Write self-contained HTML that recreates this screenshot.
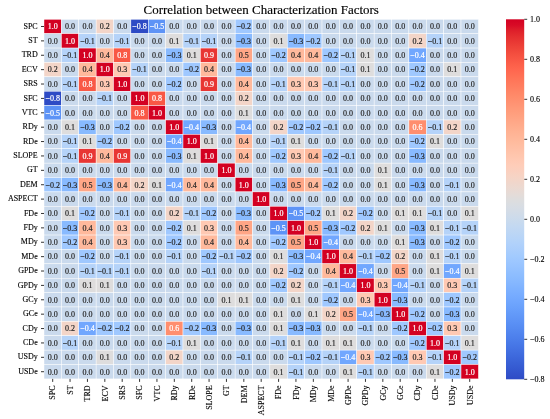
<!DOCTYPE html>
<html><head><meta charset="utf-8"><title>Correlation between Characterization Factors</title><style>html,body{margin:0;padding:0;background:#fff;}svg{display:block;}</style></head><body>
<svg width="550" height="419" viewBox="0 0 550 419">
<rect x="0" y="0" width="550" height="419" fill="#fff"/>
<g stroke="#fff" stroke-width="0.45"><rect x="44.00" y="19.30" width="17.38" height="14.38" fill="#d30122"/><rect x="61.38" y="19.30" width="17.38" height="14.38" fill="#cadaed"/><rect x="78.75" y="19.30" width="17.38" height="14.38" fill="#cadaed"/><rect x="96.13" y="19.30" width="17.38" height="14.38" fill="#f3d5c8"/><rect x="113.50" y="19.30" width="17.38" height="14.38" fill="#cadaed"/><rect x="130.88" y="19.30" width="17.38" height="14.38" fill="#2e4bc5"/><rect x="148.26" y="19.30" width="17.38" height="14.38" fill="#5d93f6"/><rect x="165.63" y="19.30" width="17.38" height="14.38" fill="#cadaed"/><rect x="183.01" y="19.30" width="17.38" height="14.38" fill="#cadaed"/><rect x="200.38" y="19.30" width="17.38" height="14.38" fill="#cadaed"/><rect x="217.76" y="19.30" width="17.38" height="14.38" fill="#cadaed"/><rect x="235.14" y="19.30" width="17.38" height="14.38" fill="#9fc8ff"/><rect x="252.51" y="19.30" width="17.38" height="14.38" fill="#cadaed"/><rect x="269.89" y="19.30" width="17.38" height="14.38" fill="#cadaed"/><rect x="287.26" y="19.30" width="17.38" height="14.38" fill="#cadaed"/><rect x="304.64" y="19.30" width="17.38" height="14.38" fill="#cadaed"/><rect x="322.02" y="19.30" width="17.38" height="14.38" fill="#cadaed"/><rect x="339.39" y="19.30" width="17.38" height="14.38" fill="#cadaed"/><rect x="356.77" y="19.30" width="17.38" height="14.38" fill="#cadaed"/><rect x="374.14" y="19.30" width="17.38" height="14.38" fill="#cadaed"/><rect x="391.52" y="19.30" width="17.38" height="14.38" fill="#cadaed"/><rect x="408.90" y="19.30" width="17.38" height="14.38" fill="#cadaed"/><rect x="426.27" y="19.30" width="17.38" height="14.38" fill="#cadaed"/><rect x="443.65" y="19.30" width="17.38" height="14.38" fill="#cadaed"/><rect x="461.02" y="19.30" width="17.38" height="14.38" fill="#cadaed"/><rect x="44.00" y="33.68" width="17.38" height="14.38" fill="#cadaed"/><rect x="61.38" y="33.68" width="17.38" height="14.38" fill="#d30122"/><rect x="78.75" y="33.68" width="17.38" height="14.38" fill="#b5d3f9"/><rect x="96.13" y="33.68" width="17.38" height="14.38" fill="#cadaed"/><rect x="113.50" y="33.68" width="17.38" height="14.38" fill="#b5d3f9"/><rect x="130.88" y="33.68" width="17.38" height="14.38" fill="#cadaed"/><rect x="148.26" y="33.68" width="17.38" height="14.38" fill="#cadaed"/><rect x="165.63" y="33.68" width="17.38" height="14.38" fill="#dedddd"/><rect x="183.01" y="33.68" width="17.38" height="14.38" fill="#b5d3f9"/><rect x="200.38" y="33.68" width="17.38" height="14.38" fill="#b5d3f9"/><rect x="217.76" y="33.68" width="17.38" height="14.38" fill="#cadaed"/><rect x="235.14" y="33.68" width="17.38" height="14.38" fill="#88baff"/><rect x="252.51" y="33.68" width="17.38" height="14.38" fill="#cadaed"/><rect x="269.89" y="33.68" width="17.38" height="14.38" fill="#dedddd"/><rect x="287.26" y="33.68" width="17.38" height="14.38" fill="#88baff"/><rect x="304.64" y="33.68" width="17.38" height="14.38" fill="#9fc8ff"/><rect x="322.02" y="33.68" width="17.38" height="14.38" fill="#cadaed"/><rect x="339.39" y="33.68" width="17.38" height="14.38" fill="#cadaed"/><rect x="356.77" y="33.68" width="17.38" height="14.38" fill="#cadaed"/><rect x="374.14" y="33.68" width="17.38" height="14.38" fill="#cadaed"/><rect x="391.52" y="33.68" width="17.38" height="14.38" fill="#cadaed"/><rect x="408.90" y="33.68" width="17.38" height="14.38" fill="#f3d5c8"/><rect x="426.27" y="33.68" width="17.38" height="14.38" fill="#b5d3f9"/><rect x="443.65" y="33.68" width="17.38" height="14.38" fill="#cadaed"/><rect x="461.02" y="33.68" width="17.38" height="14.38" fill="#cadaed"/><rect x="44.00" y="48.07" width="17.38" height="14.38" fill="#cadaed"/><rect x="61.38" y="48.07" width="17.38" height="14.38" fill="#b5d3f9"/><rect x="78.75" y="48.07" width="17.38" height="14.38" fill="#d30122"/><rect x="96.13" y="48.07" width="17.38" height="14.38" fill="#ffb99c"/><rect x="113.50" y="48.07" width="17.38" height="14.38" fill="#f95845"/><rect x="130.88" y="48.07" width="17.38" height="14.38" fill="#cadaed"/><rect x="148.26" y="48.07" width="17.38" height="14.38" fill="#cadaed"/><rect x="165.63" y="48.07" width="17.38" height="14.38" fill="#88baff"/><rect x="183.01" y="48.07" width="17.38" height="14.38" fill="#dedddd"/><rect x="200.38" y="48.07" width="17.38" height="14.38" fill="#e83533"/><rect x="217.76" y="48.07" width="17.38" height="14.38" fill="#cadaed"/><rect x="235.14" y="48.07" width="17.38" height="14.38" fill="#ffa686"/><rect x="252.51" y="48.07" width="17.38" height="14.38" fill="#cadaed"/><rect x="269.89" y="48.07" width="17.38" height="14.38" fill="#9fc8ff"/><rect x="287.26" y="48.07" width="17.38" height="14.38" fill="#ffb99c"/><rect x="304.64" y="48.07" width="17.38" height="14.38" fill="#ffb99c"/><rect x="322.02" y="48.07" width="17.38" height="14.38" fill="#9fc8ff"/><rect x="339.39" y="48.07" width="17.38" height="14.38" fill="#b5d3f9"/><rect x="356.77" y="48.07" width="17.38" height="14.38" fill="#dedddd"/><rect x="374.14" y="48.07" width="17.38" height="14.38" fill="#cadaed"/><rect x="391.52" y="48.07" width="17.38" height="14.38" fill="#cadaed"/><rect x="408.90" y="48.07" width="17.38" height="14.38" fill="#71a7fe"/><rect x="426.27" y="48.07" width="17.38" height="14.38" fill="#cadaed"/><rect x="443.65" y="48.07" width="17.38" height="14.38" fill="#cadaed"/><rect x="461.02" y="48.07" width="17.38" height="14.38" fill="#cadaed"/><rect x="44.00" y="62.45" width="17.38" height="14.38" fill="#f3d5c8"/><rect x="61.38" y="62.45" width="17.38" height="14.38" fill="#cadaed"/><rect x="78.75" y="62.45" width="17.38" height="14.38" fill="#ffb99c"/><rect x="96.13" y="62.45" width="17.38" height="14.38" fill="#d30122"/><rect x="113.50" y="62.45" width="17.38" height="14.38" fill="#ffc9b3"/><rect x="130.88" y="62.45" width="17.38" height="14.38" fill="#b5d3f9"/><rect x="148.26" y="62.45" width="17.38" height="14.38" fill="#cadaed"/><rect x="165.63" y="62.45" width="17.38" height="14.38" fill="#cadaed"/><rect x="183.01" y="62.45" width="17.38" height="14.38" fill="#9fc8ff"/><rect x="200.38" y="62.45" width="17.38" height="14.38" fill="#ffb99c"/><rect x="217.76" y="62.45" width="17.38" height="14.38" fill="#cadaed"/><rect x="235.14" y="62.45" width="17.38" height="14.38" fill="#88baff"/><rect x="252.51" y="62.45" width="17.38" height="14.38" fill="#cadaed"/><rect x="269.89" y="62.45" width="17.38" height="14.38" fill="#cadaed"/><rect x="287.26" y="62.45" width="17.38" height="14.38" fill="#cadaed"/><rect x="304.64" y="62.45" width="17.38" height="14.38" fill="#cadaed"/><rect x="322.02" y="62.45" width="17.38" height="14.38" fill="#cadaed"/><rect x="339.39" y="62.45" width="17.38" height="14.38" fill="#b5d3f9"/><rect x="356.77" y="62.45" width="17.38" height="14.38" fill="#dedddd"/><rect x="374.14" y="62.45" width="17.38" height="14.38" fill="#cadaed"/><rect x="391.52" y="62.45" width="17.38" height="14.38" fill="#cadaed"/><rect x="408.90" y="62.45" width="17.38" height="14.38" fill="#9fc8ff"/><rect x="426.27" y="62.45" width="17.38" height="14.38" fill="#cadaed"/><rect x="443.65" y="62.45" width="17.38" height="14.38" fill="#dedddd"/><rect x="461.02" y="62.45" width="17.38" height="14.38" fill="#cadaed"/><rect x="44.00" y="76.84" width="17.38" height="14.38" fill="#cadaed"/><rect x="61.38" y="76.84" width="17.38" height="14.38" fill="#b5d3f9"/><rect x="78.75" y="76.84" width="17.38" height="14.38" fill="#f95845"/><rect x="96.13" y="76.84" width="17.38" height="14.38" fill="#ffc9b3"/><rect x="113.50" y="76.84" width="17.38" height="14.38" fill="#d30122"/><rect x="130.88" y="76.84" width="17.38" height="14.38" fill="#cadaed"/><rect x="148.26" y="76.84" width="17.38" height="14.38" fill="#cadaed"/><rect x="165.63" y="76.84" width="17.38" height="14.38" fill="#9fc8ff"/><rect x="183.01" y="76.84" width="17.38" height="14.38" fill="#cadaed"/><rect x="200.38" y="76.84" width="17.38" height="14.38" fill="#e83533"/><rect x="217.76" y="76.84" width="17.38" height="14.38" fill="#cadaed"/><rect x="235.14" y="76.84" width="17.38" height="14.38" fill="#ffb99c"/><rect x="252.51" y="76.84" width="17.38" height="14.38" fill="#cadaed"/><rect x="269.89" y="76.84" width="17.38" height="14.38" fill="#b5d3f9"/><rect x="287.26" y="76.84" width="17.38" height="14.38" fill="#ffc9b3"/><rect x="304.64" y="76.84" width="17.38" height="14.38" fill="#ffc9b3"/><rect x="322.02" y="76.84" width="17.38" height="14.38" fill="#b5d3f9"/><rect x="339.39" y="76.84" width="17.38" height="14.38" fill="#b5d3f9"/><rect x="356.77" y="76.84" width="17.38" height="14.38" fill="#cadaed"/><rect x="374.14" y="76.84" width="17.38" height="14.38" fill="#cadaed"/><rect x="391.52" y="76.84" width="17.38" height="14.38" fill="#cadaed"/><rect x="408.90" y="76.84" width="17.38" height="14.38" fill="#9fc8ff"/><rect x="426.27" y="76.84" width="17.38" height="14.38" fill="#cadaed"/><rect x="443.65" y="76.84" width="17.38" height="14.38" fill="#cadaed"/><rect x="461.02" y="76.84" width="17.38" height="14.38" fill="#cadaed"/><rect x="44.00" y="91.22" width="17.38" height="14.38" fill="#2e4bc5"/><rect x="61.38" y="91.22" width="17.38" height="14.38" fill="#cadaed"/><rect x="78.75" y="91.22" width="17.38" height="14.38" fill="#cadaed"/><rect x="96.13" y="91.22" width="17.38" height="14.38" fill="#b5d3f9"/><rect x="113.50" y="91.22" width="17.38" height="14.38" fill="#cadaed"/><rect x="130.88" y="91.22" width="17.38" height="14.38" fill="#d30122"/><rect x="148.26" y="91.22" width="17.38" height="14.38" fill="#f95845"/><rect x="165.63" y="91.22" width="17.38" height="14.38" fill="#cadaed"/><rect x="183.01" y="91.22" width="17.38" height="14.38" fill="#cadaed"/><rect x="200.38" y="91.22" width="17.38" height="14.38" fill="#cadaed"/><rect x="217.76" y="91.22" width="17.38" height="14.38" fill="#cadaed"/><rect x="235.14" y="91.22" width="17.38" height="14.38" fill="#f3d5c8"/><rect x="252.51" y="91.22" width="17.38" height="14.38" fill="#cadaed"/><rect x="269.89" y="91.22" width="17.38" height="14.38" fill="#cadaed"/><rect x="287.26" y="91.22" width="17.38" height="14.38" fill="#cadaed"/><rect x="304.64" y="91.22" width="17.38" height="14.38" fill="#cadaed"/><rect x="322.02" y="91.22" width="17.38" height="14.38" fill="#cadaed"/><rect x="339.39" y="91.22" width="17.38" height="14.38" fill="#cadaed"/><rect x="356.77" y="91.22" width="17.38" height="14.38" fill="#cadaed"/><rect x="374.14" y="91.22" width="17.38" height="14.38" fill="#cadaed"/><rect x="391.52" y="91.22" width="17.38" height="14.38" fill="#cadaed"/><rect x="408.90" y="91.22" width="17.38" height="14.38" fill="#cadaed"/><rect x="426.27" y="91.22" width="17.38" height="14.38" fill="#cadaed"/><rect x="443.65" y="91.22" width="17.38" height="14.38" fill="#cadaed"/><rect x="461.02" y="91.22" width="17.38" height="14.38" fill="#cadaed"/><rect x="44.00" y="105.60" width="17.38" height="14.38" fill="#5d93f6"/><rect x="61.38" y="105.60" width="17.38" height="14.38" fill="#cadaed"/><rect x="78.75" y="105.60" width="17.38" height="14.38" fill="#cadaed"/><rect x="96.13" y="105.60" width="17.38" height="14.38" fill="#cadaed"/><rect x="113.50" y="105.60" width="17.38" height="14.38" fill="#cadaed"/><rect x="130.88" y="105.60" width="17.38" height="14.38" fill="#f95845"/><rect x="148.26" y="105.60" width="17.38" height="14.38" fill="#d30122"/><rect x="165.63" y="105.60" width="17.38" height="14.38" fill="#cadaed"/><rect x="183.01" y="105.60" width="17.38" height="14.38" fill="#cadaed"/><rect x="200.38" y="105.60" width="17.38" height="14.38" fill="#cadaed"/><rect x="217.76" y="105.60" width="17.38" height="14.38" fill="#cadaed"/><rect x="235.14" y="105.60" width="17.38" height="14.38" fill="#dedddd"/><rect x="252.51" y="105.60" width="17.38" height="14.38" fill="#cadaed"/><rect x="269.89" y="105.60" width="17.38" height="14.38" fill="#cadaed"/><rect x="287.26" y="105.60" width="17.38" height="14.38" fill="#cadaed"/><rect x="304.64" y="105.60" width="17.38" height="14.38" fill="#cadaed"/><rect x="322.02" y="105.60" width="17.38" height="14.38" fill="#cadaed"/><rect x="339.39" y="105.60" width="17.38" height="14.38" fill="#cadaed"/><rect x="356.77" y="105.60" width="17.38" height="14.38" fill="#cadaed"/><rect x="374.14" y="105.60" width="17.38" height="14.38" fill="#cadaed"/><rect x="391.52" y="105.60" width="17.38" height="14.38" fill="#cadaed"/><rect x="408.90" y="105.60" width="17.38" height="14.38" fill="#cadaed"/><rect x="426.27" y="105.60" width="17.38" height="14.38" fill="#cadaed"/><rect x="443.65" y="105.60" width="17.38" height="14.38" fill="#cadaed"/><rect x="461.02" y="105.60" width="17.38" height="14.38" fill="#cadaed"/><rect x="44.00" y="119.99" width="17.38" height="14.38" fill="#cadaed"/><rect x="61.38" y="119.99" width="17.38" height="14.38" fill="#dedddd"/><rect x="78.75" y="119.99" width="17.38" height="14.38" fill="#88baff"/><rect x="96.13" y="119.99" width="17.38" height="14.38" fill="#cadaed"/><rect x="113.50" y="119.99" width="17.38" height="14.38" fill="#9fc8ff"/><rect x="130.88" y="119.99" width="17.38" height="14.38" fill="#cadaed"/><rect x="148.26" y="119.99" width="17.38" height="14.38" fill="#cadaed"/><rect x="165.63" y="119.99" width="17.38" height="14.38" fill="#d30122"/><rect x="183.01" y="119.99" width="17.38" height="14.38" fill="#71a7fe"/><rect x="200.38" y="119.99" width="17.38" height="14.38" fill="#88baff"/><rect x="217.76" y="119.99" width="17.38" height="14.38" fill="#cadaed"/><rect x="235.14" y="119.99" width="17.38" height="14.38" fill="#71a7fe"/><rect x="252.51" y="119.99" width="17.38" height="14.38" fill="#cadaed"/><rect x="269.89" y="119.99" width="17.38" height="14.38" fill="#f3d5c8"/><rect x="287.26" y="119.99" width="17.38" height="14.38" fill="#9fc8ff"/><rect x="304.64" y="119.99" width="17.38" height="14.38" fill="#9fc8ff"/><rect x="322.02" y="119.99" width="17.38" height="14.38" fill="#b5d3f9"/><rect x="339.39" y="119.99" width="17.38" height="14.38" fill="#cadaed"/><rect x="356.77" y="119.99" width="17.38" height="14.38" fill="#cadaed"/><rect x="374.14" y="119.99" width="17.38" height="14.38" fill="#cadaed"/><rect x="391.52" y="119.99" width="17.38" height="14.38" fill="#cadaed"/><rect x="408.90" y="119.99" width="17.38" height="14.38" fill="#ff8e6e"/><rect x="426.27" y="119.99" width="17.38" height="14.38" fill="#b5d3f9"/><rect x="443.65" y="119.99" width="17.38" height="14.38" fill="#f3d5c8"/><rect x="461.02" y="119.99" width="17.38" height="14.38" fill="#cadaed"/><rect x="44.00" y="134.37" width="17.38" height="14.38" fill="#cadaed"/><rect x="61.38" y="134.37" width="17.38" height="14.38" fill="#b5d3f9"/><rect x="78.75" y="134.37" width="17.38" height="14.38" fill="#dedddd"/><rect x="96.13" y="134.37" width="17.38" height="14.38" fill="#9fc8ff"/><rect x="113.50" y="134.37" width="17.38" height="14.38" fill="#cadaed"/><rect x="130.88" y="134.37" width="17.38" height="14.38" fill="#cadaed"/><rect x="148.26" y="134.37" width="17.38" height="14.38" fill="#cadaed"/><rect x="165.63" y="134.37" width="17.38" height="14.38" fill="#71a7fe"/><rect x="183.01" y="134.37" width="17.38" height="14.38" fill="#d30122"/><rect x="200.38" y="134.37" width="17.38" height="14.38" fill="#dedddd"/><rect x="217.76" y="134.37" width="17.38" height="14.38" fill="#cadaed"/><rect x="235.14" y="134.37" width="17.38" height="14.38" fill="#ffb99c"/><rect x="252.51" y="134.37" width="17.38" height="14.38" fill="#cadaed"/><rect x="269.89" y="134.37" width="17.38" height="14.38" fill="#b5d3f9"/><rect x="287.26" y="134.37" width="17.38" height="14.38" fill="#dedddd"/><rect x="304.64" y="134.37" width="17.38" height="14.38" fill="#cadaed"/><rect x="322.02" y="134.37" width="17.38" height="14.38" fill="#cadaed"/><rect x="339.39" y="134.37" width="17.38" height="14.38" fill="#cadaed"/><rect x="356.77" y="134.37" width="17.38" height="14.38" fill="#cadaed"/><rect x="374.14" y="134.37" width="17.38" height="14.38" fill="#cadaed"/><rect x="391.52" y="134.37" width="17.38" height="14.38" fill="#cadaed"/><rect x="408.90" y="134.37" width="17.38" height="14.38" fill="#9fc8ff"/><rect x="426.27" y="134.37" width="17.38" height="14.38" fill="#dedddd"/><rect x="443.65" y="134.37" width="17.38" height="14.38" fill="#cadaed"/><rect x="461.02" y="134.37" width="17.38" height="14.38" fill="#cadaed"/><rect x="44.00" y="148.76" width="17.38" height="14.38" fill="#cadaed"/><rect x="61.38" y="148.76" width="17.38" height="14.38" fill="#b5d3f9"/><rect x="78.75" y="148.76" width="17.38" height="14.38" fill="#e83533"/><rect x="96.13" y="148.76" width="17.38" height="14.38" fill="#ffb99c"/><rect x="113.50" y="148.76" width="17.38" height="14.38" fill="#e83533"/><rect x="130.88" y="148.76" width="17.38" height="14.38" fill="#cadaed"/><rect x="148.26" y="148.76" width="17.38" height="14.38" fill="#cadaed"/><rect x="165.63" y="148.76" width="17.38" height="14.38" fill="#88baff"/><rect x="183.01" y="148.76" width="17.38" height="14.38" fill="#dedddd"/><rect x="200.38" y="148.76" width="17.38" height="14.38" fill="#d30122"/><rect x="217.76" y="148.76" width="17.38" height="14.38" fill="#cadaed"/><rect x="235.14" y="148.76" width="17.38" height="14.38" fill="#ffb99c"/><rect x="252.51" y="148.76" width="17.38" height="14.38" fill="#cadaed"/><rect x="269.89" y="148.76" width="17.38" height="14.38" fill="#9fc8ff"/><rect x="287.26" y="148.76" width="17.38" height="14.38" fill="#ffc9b3"/><rect x="304.64" y="148.76" width="17.38" height="14.38" fill="#ffb99c"/><rect x="322.02" y="148.76" width="17.38" height="14.38" fill="#9fc8ff"/><rect x="339.39" y="148.76" width="17.38" height="14.38" fill="#b5d3f9"/><rect x="356.77" y="148.76" width="17.38" height="14.38" fill="#cadaed"/><rect x="374.14" y="148.76" width="17.38" height="14.38" fill="#cadaed"/><rect x="391.52" y="148.76" width="17.38" height="14.38" fill="#cadaed"/><rect x="408.90" y="148.76" width="17.38" height="14.38" fill="#88baff"/><rect x="426.27" y="148.76" width="17.38" height="14.38" fill="#cadaed"/><rect x="443.65" y="148.76" width="17.38" height="14.38" fill="#cadaed"/><rect x="461.02" y="148.76" width="17.38" height="14.38" fill="#cadaed"/><rect x="44.00" y="163.14" width="17.38" height="14.38" fill="#cadaed"/><rect x="61.38" y="163.14" width="17.38" height="14.38" fill="#cadaed"/><rect x="78.75" y="163.14" width="17.38" height="14.38" fill="#cadaed"/><rect x="96.13" y="163.14" width="17.38" height="14.38" fill="#cadaed"/><rect x="113.50" y="163.14" width="17.38" height="14.38" fill="#cadaed"/><rect x="130.88" y="163.14" width="17.38" height="14.38" fill="#cadaed"/><rect x="148.26" y="163.14" width="17.38" height="14.38" fill="#cadaed"/><rect x="165.63" y="163.14" width="17.38" height="14.38" fill="#cadaed"/><rect x="183.01" y="163.14" width="17.38" height="14.38" fill="#cadaed"/><rect x="200.38" y="163.14" width="17.38" height="14.38" fill="#cadaed"/><rect x="217.76" y="163.14" width="17.38" height="14.38" fill="#d30122"/><rect x="235.14" y="163.14" width="17.38" height="14.38" fill="#cadaed"/><rect x="252.51" y="163.14" width="17.38" height="14.38" fill="#cadaed"/><rect x="269.89" y="163.14" width="17.38" height="14.38" fill="#cadaed"/><rect x="287.26" y="163.14" width="17.38" height="14.38" fill="#cadaed"/><rect x="304.64" y="163.14" width="17.38" height="14.38" fill="#cadaed"/><rect x="322.02" y="163.14" width="17.38" height="14.38" fill="#b5d3f9"/><rect x="339.39" y="163.14" width="17.38" height="14.38" fill="#cadaed"/><rect x="356.77" y="163.14" width="17.38" height="14.38" fill="#cadaed"/><rect x="374.14" y="163.14" width="17.38" height="14.38" fill="#dedddd"/><rect x="391.52" y="163.14" width="17.38" height="14.38" fill="#cadaed"/><rect x="408.90" y="163.14" width="17.38" height="14.38" fill="#cadaed"/><rect x="426.27" y="163.14" width="17.38" height="14.38" fill="#cadaed"/><rect x="443.65" y="163.14" width="17.38" height="14.38" fill="#cadaed"/><rect x="461.02" y="163.14" width="17.38" height="14.38" fill="#cadaed"/><rect x="44.00" y="177.52" width="17.38" height="14.38" fill="#9fc8ff"/><rect x="61.38" y="177.52" width="17.38" height="14.38" fill="#88baff"/><rect x="78.75" y="177.52" width="17.38" height="14.38" fill="#ffa686"/><rect x="96.13" y="177.52" width="17.38" height="14.38" fill="#88baff"/><rect x="113.50" y="177.52" width="17.38" height="14.38" fill="#ffb99c"/><rect x="130.88" y="177.52" width="17.38" height="14.38" fill="#f3d5c8"/><rect x="148.26" y="177.52" width="17.38" height="14.38" fill="#dedddd"/><rect x="165.63" y="177.52" width="17.38" height="14.38" fill="#71a7fe"/><rect x="183.01" y="177.52" width="17.38" height="14.38" fill="#ffb99c"/><rect x="200.38" y="177.52" width="17.38" height="14.38" fill="#ffb99c"/><rect x="217.76" y="177.52" width="17.38" height="14.38" fill="#cadaed"/><rect x="235.14" y="177.52" width="17.38" height="14.38" fill="#d30122"/><rect x="252.51" y="177.52" width="17.38" height="14.38" fill="#cadaed"/><rect x="269.89" y="177.52" width="17.38" height="14.38" fill="#88baff"/><rect x="287.26" y="177.52" width="17.38" height="14.38" fill="#ffa686"/><rect x="304.64" y="177.52" width="17.38" height="14.38" fill="#ffb99c"/><rect x="322.02" y="177.52" width="17.38" height="14.38" fill="#9fc8ff"/><rect x="339.39" y="177.52" width="17.38" height="14.38" fill="#cadaed"/><rect x="356.77" y="177.52" width="17.38" height="14.38" fill="#cadaed"/><rect x="374.14" y="177.52" width="17.38" height="14.38" fill="#dedddd"/><rect x="391.52" y="177.52" width="17.38" height="14.38" fill="#cadaed"/><rect x="408.90" y="177.52" width="17.38" height="14.38" fill="#88baff"/><rect x="426.27" y="177.52" width="17.38" height="14.38" fill="#cadaed"/><rect x="443.65" y="177.52" width="17.38" height="14.38" fill="#b5d3f9"/><rect x="461.02" y="177.52" width="17.38" height="14.38" fill="#cadaed"/><rect x="44.00" y="191.91" width="17.38" height="14.38" fill="#cadaed"/><rect x="61.38" y="191.91" width="17.38" height="14.38" fill="#cadaed"/><rect x="78.75" y="191.91" width="17.38" height="14.38" fill="#cadaed"/><rect x="96.13" y="191.91" width="17.38" height="14.38" fill="#cadaed"/><rect x="113.50" y="191.91" width="17.38" height="14.38" fill="#cadaed"/><rect x="130.88" y="191.91" width="17.38" height="14.38" fill="#cadaed"/><rect x="148.26" y="191.91" width="17.38" height="14.38" fill="#cadaed"/><rect x="165.63" y="191.91" width="17.38" height="14.38" fill="#cadaed"/><rect x="183.01" y="191.91" width="17.38" height="14.38" fill="#cadaed"/><rect x="200.38" y="191.91" width="17.38" height="14.38" fill="#cadaed"/><rect x="217.76" y="191.91" width="17.38" height="14.38" fill="#cadaed"/><rect x="235.14" y="191.91" width="17.38" height="14.38" fill="#cadaed"/><rect x="252.51" y="191.91" width="17.38" height="14.38" fill="#d30122"/><rect x="269.89" y="191.91" width="17.38" height="14.38" fill="#cadaed"/><rect x="287.26" y="191.91" width="17.38" height="14.38" fill="#cadaed"/><rect x="304.64" y="191.91" width="17.38" height="14.38" fill="#cadaed"/><rect x="322.02" y="191.91" width="17.38" height="14.38" fill="#cadaed"/><rect x="339.39" y="191.91" width="17.38" height="14.38" fill="#cadaed"/><rect x="356.77" y="191.91" width="17.38" height="14.38" fill="#cadaed"/><rect x="374.14" y="191.91" width="17.38" height="14.38" fill="#cadaed"/><rect x="391.52" y="191.91" width="17.38" height="14.38" fill="#cadaed"/><rect x="408.90" y="191.91" width="17.38" height="14.38" fill="#cadaed"/><rect x="426.27" y="191.91" width="17.38" height="14.38" fill="#cadaed"/><rect x="443.65" y="191.91" width="17.38" height="14.38" fill="#cadaed"/><rect x="461.02" y="191.91" width="17.38" height="14.38" fill="#cadaed"/><rect x="44.00" y="206.29" width="17.38" height="14.38" fill="#cadaed"/><rect x="61.38" y="206.29" width="17.38" height="14.38" fill="#dedddd"/><rect x="78.75" y="206.29" width="17.38" height="14.38" fill="#9fc8ff"/><rect x="96.13" y="206.29" width="17.38" height="14.38" fill="#cadaed"/><rect x="113.50" y="206.29" width="17.38" height="14.38" fill="#b5d3f9"/><rect x="130.88" y="206.29" width="17.38" height="14.38" fill="#cadaed"/><rect x="148.26" y="206.29" width="17.38" height="14.38" fill="#cadaed"/><rect x="165.63" y="206.29" width="17.38" height="14.38" fill="#f3d5c8"/><rect x="183.01" y="206.29" width="17.38" height="14.38" fill="#b5d3f9"/><rect x="200.38" y="206.29" width="17.38" height="14.38" fill="#9fc8ff"/><rect x="217.76" y="206.29" width="17.38" height="14.38" fill="#cadaed"/><rect x="235.14" y="206.29" width="17.38" height="14.38" fill="#88baff"/><rect x="252.51" y="206.29" width="17.38" height="14.38" fill="#cadaed"/><rect x="269.89" y="206.29" width="17.38" height="14.38" fill="#d30122"/><rect x="287.26" y="206.29" width="17.38" height="14.38" fill="#5d93f6"/><rect x="304.64" y="206.29" width="17.38" height="14.38" fill="#9fc8ff"/><rect x="322.02" y="206.29" width="17.38" height="14.38" fill="#dedddd"/><rect x="339.39" y="206.29" width="17.38" height="14.38" fill="#f3d5c8"/><rect x="356.77" y="206.29" width="17.38" height="14.38" fill="#9fc8ff"/><rect x="374.14" y="206.29" width="17.38" height="14.38" fill="#cadaed"/><rect x="391.52" y="206.29" width="17.38" height="14.38" fill="#dedddd"/><rect x="408.90" y="206.29" width="17.38" height="14.38" fill="#dedddd"/><rect x="426.27" y="206.29" width="17.38" height="14.38" fill="#b5d3f9"/><rect x="443.65" y="206.29" width="17.38" height="14.38" fill="#cadaed"/><rect x="461.02" y="206.29" width="17.38" height="14.38" fill="#dedddd"/><rect x="44.00" y="220.68" width="17.38" height="14.38" fill="#cadaed"/><rect x="61.38" y="220.68" width="17.38" height="14.38" fill="#88baff"/><rect x="78.75" y="220.68" width="17.38" height="14.38" fill="#ffb99c"/><rect x="96.13" y="220.68" width="17.38" height="14.38" fill="#cadaed"/><rect x="113.50" y="220.68" width="17.38" height="14.38" fill="#ffc9b3"/><rect x="130.88" y="220.68" width="17.38" height="14.38" fill="#cadaed"/><rect x="148.26" y="220.68" width="17.38" height="14.38" fill="#cadaed"/><rect x="165.63" y="220.68" width="17.38" height="14.38" fill="#9fc8ff"/><rect x="183.01" y="220.68" width="17.38" height="14.38" fill="#dedddd"/><rect x="200.38" y="220.68" width="17.38" height="14.38" fill="#ffc9b3"/><rect x="217.76" y="220.68" width="17.38" height="14.38" fill="#cadaed"/><rect x="235.14" y="220.68" width="17.38" height="14.38" fill="#ffa686"/><rect x="252.51" y="220.68" width="17.38" height="14.38" fill="#cadaed"/><rect x="269.89" y="220.68" width="17.38" height="14.38" fill="#5d93f6"/><rect x="287.26" y="220.68" width="17.38" height="14.38" fill="#d30122"/><rect x="304.64" y="220.68" width="17.38" height="14.38" fill="#ffa686"/><rect x="322.02" y="220.68" width="17.38" height="14.38" fill="#88baff"/><rect x="339.39" y="220.68" width="17.38" height="14.38" fill="#9fc8ff"/><rect x="356.77" y="220.68" width="17.38" height="14.38" fill="#f3d5c8"/><rect x="374.14" y="220.68" width="17.38" height="14.38" fill="#dedddd"/><rect x="391.52" y="220.68" width="17.38" height="14.38" fill="#cadaed"/><rect x="408.90" y="220.68" width="17.38" height="14.38" fill="#88baff"/><rect x="426.27" y="220.68" width="17.38" height="14.38" fill="#dedddd"/><rect x="443.65" y="220.68" width="17.38" height="14.38" fill="#b5d3f9"/><rect x="461.02" y="220.68" width="17.38" height="14.38" fill="#b5d3f9"/><rect x="44.00" y="235.06" width="17.38" height="14.38" fill="#cadaed"/><rect x="61.38" y="235.06" width="17.38" height="14.38" fill="#9fc8ff"/><rect x="78.75" y="235.06" width="17.38" height="14.38" fill="#ffb99c"/><rect x="96.13" y="235.06" width="17.38" height="14.38" fill="#cadaed"/><rect x="113.50" y="235.06" width="17.38" height="14.38" fill="#ffc9b3"/><rect x="130.88" y="235.06" width="17.38" height="14.38" fill="#cadaed"/><rect x="148.26" y="235.06" width="17.38" height="14.38" fill="#cadaed"/><rect x="165.63" y="235.06" width="17.38" height="14.38" fill="#9fc8ff"/><rect x="183.01" y="235.06" width="17.38" height="14.38" fill="#cadaed"/><rect x="200.38" y="235.06" width="17.38" height="14.38" fill="#ffb99c"/><rect x="217.76" y="235.06" width="17.38" height="14.38" fill="#cadaed"/><rect x="235.14" y="235.06" width="17.38" height="14.38" fill="#ffb99c"/><rect x="252.51" y="235.06" width="17.38" height="14.38" fill="#cadaed"/><rect x="269.89" y="235.06" width="17.38" height="14.38" fill="#9fc8ff"/><rect x="287.26" y="235.06" width="17.38" height="14.38" fill="#ffa686"/><rect x="304.64" y="235.06" width="17.38" height="14.38" fill="#d30122"/><rect x="322.02" y="235.06" width="17.38" height="14.38" fill="#71a7fe"/><rect x="339.39" y="235.06" width="17.38" height="14.38" fill="#cadaed"/><rect x="356.77" y="235.06" width="17.38" height="14.38" fill="#cadaed"/><rect x="374.14" y="235.06" width="17.38" height="14.38" fill="#cadaed"/><rect x="391.52" y="235.06" width="17.38" height="14.38" fill="#dedddd"/><rect x="408.90" y="235.06" width="17.38" height="14.38" fill="#88baff"/><rect x="426.27" y="235.06" width="17.38" height="14.38" fill="#cadaed"/><rect x="443.65" y="235.06" width="17.38" height="14.38" fill="#9fc8ff"/><rect x="461.02" y="235.06" width="17.38" height="14.38" fill="#cadaed"/><rect x="44.00" y="249.44" width="17.38" height="14.38" fill="#cadaed"/><rect x="61.38" y="249.44" width="17.38" height="14.38" fill="#cadaed"/><rect x="78.75" y="249.44" width="17.38" height="14.38" fill="#9fc8ff"/><rect x="96.13" y="249.44" width="17.38" height="14.38" fill="#cadaed"/><rect x="113.50" y="249.44" width="17.38" height="14.38" fill="#b5d3f9"/><rect x="130.88" y="249.44" width="17.38" height="14.38" fill="#cadaed"/><rect x="148.26" y="249.44" width="17.38" height="14.38" fill="#cadaed"/><rect x="165.63" y="249.44" width="17.38" height="14.38" fill="#b5d3f9"/><rect x="183.01" y="249.44" width="17.38" height="14.38" fill="#cadaed"/><rect x="200.38" y="249.44" width="17.38" height="14.38" fill="#9fc8ff"/><rect x="217.76" y="249.44" width="17.38" height="14.38" fill="#b5d3f9"/><rect x="235.14" y="249.44" width="17.38" height="14.38" fill="#9fc8ff"/><rect x="252.51" y="249.44" width="17.38" height="14.38" fill="#cadaed"/><rect x="269.89" y="249.44" width="17.38" height="14.38" fill="#dedddd"/><rect x="287.26" y="249.44" width="17.38" height="14.38" fill="#88baff"/><rect x="304.64" y="249.44" width="17.38" height="14.38" fill="#71a7fe"/><rect x="322.02" y="249.44" width="17.38" height="14.38" fill="#d30122"/><rect x="339.39" y="249.44" width="17.38" height="14.38" fill="#ffb99c"/><rect x="356.77" y="249.44" width="17.38" height="14.38" fill="#b5d3f9"/><rect x="374.14" y="249.44" width="17.38" height="14.38" fill="#9fc8ff"/><rect x="391.52" y="249.44" width="17.38" height="14.38" fill="#f3d5c8"/><rect x="408.90" y="249.44" width="17.38" height="14.38" fill="#cadaed"/><rect x="426.27" y="249.44" width="17.38" height="14.38" fill="#dedddd"/><rect x="443.65" y="249.44" width="17.38" height="14.38" fill="#b5d3f9"/><rect x="461.02" y="249.44" width="17.38" height="14.38" fill="#cadaed"/><rect x="44.00" y="263.83" width="17.38" height="14.38" fill="#cadaed"/><rect x="61.38" y="263.83" width="17.38" height="14.38" fill="#cadaed"/><rect x="78.75" y="263.83" width="17.38" height="14.38" fill="#b5d3f9"/><rect x="96.13" y="263.83" width="17.38" height="14.38" fill="#b5d3f9"/><rect x="113.50" y="263.83" width="17.38" height="14.38" fill="#b5d3f9"/><rect x="130.88" y="263.83" width="17.38" height="14.38" fill="#cadaed"/><rect x="148.26" y="263.83" width="17.38" height="14.38" fill="#cadaed"/><rect x="165.63" y="263.83" width="17.38" height="14.38" fill="#cadaed"/><rect x="183.01" y="263.83" width="17.38" height="14.38" fill="#cadaed"/><rect x="200.38" y="263.83" width="17.38" height="14.38" fill="#b5d3f9"/><rect x="217.76" y="263.83" width="17.38" height="14.38" fill="#cadaed"/><rect x="235.14" y="263.83" width="17.38" height="14.38" fill="#cadaed"/><rect x="252.51" y="263.83" width="17.38" height="14.38" fill="#cadaed"/><rect x="269.89" y="263.83" width="17.38" height="14.38" fill="#f3d5c8"/><rect x="287.26" y="263.83" width="17.38" height="14.38" fill="#9fc8ff"/><rect x="304.64" y="263.83" width="17.38" height="14.38" fill="#cadaed"/><rect x="322.02" y="263.83" width="17.38" height="14.38" fill="#ffb99c"/><rect x="339.39" y="263.83" width="17.38" height="14.38" fill="#d30122"/><rect x="356.77" y="263.83" width="17.38" height="14.38" fill="#71a7fe"/><rect x="374.14" y="263.83" width="17.38" height="14.38" fill="#cadaed"/><rect x="391.52" y="263.83" width="17.38" height="14.38" fill="#ffa686"/><rect x="408.90" y="263.83" width="17.38" height="14.38" fill="#cadaed"/><rect x="426.27" y="263.83" width="17.38" height="14.38" fill="#dedddd"/><rect x="443.65" y="263.83" width="17.38" height="14.38" fill="#71a7fe"/><rect x="461.02" y="263.83" width="17.38" height="14.38" fill="#dedddd"/><rect x="44.00" y="278.21" width="17.38" height="14.38" fill="#cadaed"/><rect x="61.38" y="278.21" width="17.38" height="14.38" fill="#cadaed"/><rect x="78.75" y="278.21" width="17.38" height="14.38" fill="#dedddd"/><rect x="96.13" y="278.21" width="17.38" height="14.38" fill="#dedddd"/><rect x="113.50" y="278.21" width="17.38" height="14.38" fill="#cadaed"/><rect x="130.88" y="278.21" width="17.38" height="14.38" fill="#cadaed"/><rect x="148.26" y="278.21" width="17.38" height="14.38" fill="#cadaed"/><rect x="165.63" y="278.21" width="17.38" height="14.38" fill="#cadaed"/><rect x="183.01" y="278.21" width="17.38" height="14.38" fill="#cadaed"/><rect x="200.38" y="278.21" width="17.38" height="14.38" fill="#cadaed"/><rect x="217.76" y="278.21" width="17.38" height="14.38" fill="#cadaed"/><rect x="235.14" y="278.21" width="17.38" height="14.38" fill="#cadaed"/><rect x="252.51" y="278.21" width="17.38" height="14.38" fill="#cadaed"/><rect x="269.89" y="278.21" width="17.38" height="14.38" fill="#9fc8ff"/><rect x="287.26" y="278.21" width="17.38" height="14.38" fill="#f3d5c8"/><rect x="304.64" y="278.21" width="17.38" height="14.38" fill="#cadaed"/><rect x="322.02" y="278.21" width="17.38" height="14.38" fill="#b5d3f9"/><rect x="339.39" y="278.21" width="17.38" height="14.38" fill="#71a7fe"/><rect x="356.77" y="278.21" width="17.38" height="14.38" fill="#d30122"/><rect x="374.14" y="278.21" width="17.38" height="14.38" fill="#ffc9b3"/><rect x="391.52" y="278.21" width="17.38" height="14.38" fill="#71a7fe"/><rect x="408.90" y="278.21" width="17.38" height="14.38" fill="#b5d3f9"/><rect x="426.27" y="278.21" width="17.38" height="14.38" fill="#cadaed"/><rect x="443.65" y="278.21" width="17.38" height="14.38" fill="#ffc9b3"/><rect x="461.02" y="278.21" width="17.38" height="14.38" fill="#b5d3f9"/><rect x="44.00" y="292.60" width="17.38" height="14.38" fill="#cadaed"/><rect x="61.38" y="292.60" width="17.38" height="14.38" fill="#cadaed"/><rect x="78.75" y="292.60" width="17.38" height="14.38" fill="#cadaed"/><rect x="96.13" y="292.60" width="17.38" height="14.38" fill="#cadaed"/><rect x="113.50" y="292.60" width="17.38" height="14.38" fill="#cadaed"/><rect x="130.88" y="292.60" width="17.38" height="14.38" fill="#cadaed"/><rect x="148.26" y="292.60" width="17.38" height="14.38" fill="#cadaed"/><rect x="165.63" y="292.60" width="17.38" height="14.38" fill="#cadaed"/><rect x="183.01" y="292.60" width="17.38" height="14.38" fill="#cadaed"/><rect x="200.38" y="292.60" width="17.38" height="14.38" fill="#cadaed"/><rect x="217.76" y="292.60" width="17.38" height="14.38" fill="#dedddd"/><rect x="235.14" y="292.60" width="17.38" height="14.38" fill="#dedddd"/><rect x="252.51" y="292.60" width="17.38" height="14.38" fill="#cadaed"/><rect x="269.89" y="292.60" width="17.38" height="14.38" fill="#cadaed"/><rect x="287.26" y="292.60" width="17.38" height="14.38" fill="#dedddd"/><rect x="304.64" y="292.60" width="17.38" height="14.38" fill="#cadaed"/><rect x="322.02" y="292.60" width="17.38" height="14.38" fill="#9fc8ff"/><rect x="339.39" y="292.60" width="17.38" height="14.38" fill="#cadaed"/><rect x="356.77" y="292.60" width="17.38" height="14.38" fill="#ffc9b3"/><rect x="374.14" y="292.60" width="17.38" height="14.38" fill="#d30122"/><rect x="391.52" y="292.60" width="17.38" height="14.38" fill="#88baff"/><rect x="408.90" y="292.60" width="17.38" height="14.38" fill="#cadaed"/><rect x="426.27" y="292.60" width="17.38" height="14.38" fill="#cadaed"/><rect x="443.65" y="292.60" width="17.38" height="14.38" fill="#9fc8ff"/><rect x="461.02" y="292.60" width="17.38" height="14.38" fill="#cadaed"/><rect x="44.00" y="306.98" width="17.38" height="14.38" fill="#cadaed"/><rect x="61.38" y="306.98" width="17.38" height="14.38" fill="#cadaed"/><rect x="78.75" y="306.98" width="17.38" height="14.38" fill="#cadaed"/><rect x="96.13" y="306.98" width="17.38" height="14.38" fill="#cadaed"/><rect x="113.50" y="306.98" width="17.38" height="14.38" fill="#cadaed"/><rect x="130.88" y="306.98" width="17.38" height="14.38" fill="#cadaed"/><rect x="148.26" y="306.98" width="17.38" height="14.38" fill="#cadaed"/><rect x="165.63" y="306.98" width="17.38" height="14.38" fill="#cadaed"/><rect x="183.01" y="306.98" width="17.38" height="14.38" fill="#cadaed"/><rect x="200.38" y="306.98" width="17.38" height="14.38" fill="#cadaed"/><rect x="217.76" y="306.98" width="17.38" height="14.38" fill="#cadaed"/><rect x="235.14" y="306.98" width="17.38" height="14.38" fill="#cadaed"/><rect x="252.51" y="306.98" width="17.38" height="14.38" fill="#cadaed"/><rect x="269.89" y="306.98" width="17.38" height="14.38" fill="#dedddd"/><rect x="287.26" y="306.98" width="17.38" height="14.38" fill="#cadaed"/><rect x="304.64" y="306.98" width="17.38" height="14.38" fill="#dedddd"/><rect x="322.02" y="306.98" width="17.38" height="14.38" fill="#f3d5c8"/><rect x="339.39" y="306.98" width="17.38" height="14.38" fill="#ffa686"/><rect x="356.77" y="306.98" width="17.38" height="14.38" fill="#71a7fe"/><rect x="374.14" y="306.98" width="17.38" height="14.38" fill="#88baff"/><rect x="391.52" y="306.98" width="17.38" height="14.38" fill="#d30122"/><rect x="408.90" y="306.98" width="17.38" height="14.38" fill="#9fc8ff"/><rect x="426.27" y="306.98" width="17.38" height="14.38" fill="#cadaed"/><rect x="443.65" y="306.98" width="17.38" height="14.38" fill="#88baff"/><rect x="461.02" y="306.98" width="17.38" height="14.38" fill="#cadaed"/><rect x="44.00" y="321.36" width="17.38" height="14.38" fill="#cadaed"/><rect x="61.38" y="321.36" width="17.38" height="14.38" fill="#f3d5c8"/><rect x="78.75" y="321.36" width="17.38" height="14.38" fill="#71a7fe"/><rect x="96.13" y="321.36" width="17.38" height="14.38" fill="#9fc8ff"/><rect x="113.50" y="321.36" width="17.38" height="14.38" fill="#9fc8ff"/><rect x="130.88" y="321.36" width="17.38" height="14.38" fill="#cadaed"/><rect x="148.26" y="321.36" width="17.38" height="14.38" fill="#cadaed"/><rect x="165.63" y="321.36" width="17.38" height="14.38" fill="#ff8e6e"/><rect x="183.01" y="321.36" width="17.38" height="14.38" fill="#9fc8ff"/><rect x="200.38" y="321.36" width="17.38" height="14.38" fill="#88baff"/><rect x="217.76" y="321.36" width="17.38" height="14.38" fill="#cadaed"/><rect x="235.14" y="321.36" width="17.38" height="14.38" fill="#88baff"/><rect x="252.51" y="321.36" width="17.38" height="14.38" fill="#cadaed"/><rect x="269.89" y="321.36" width="17.38" height="14.38" fill="#dedddd"/><rect x="287.26" y="321.36" width="17.38" height="14.38" fill="#88baff"/><rect x="304.64" y="321.36" width="17.38" height="14.38" fill="#88baff"/><rect x="322.02" y="321.36" width="17.38" height="14.38" fill="#cadaed"/><rect x="339.39" y="321.36" width="17.38" height="14.38" fill="#cadaed"/><rect x="356.77" y="321.36" width="17.38" height="14.38" fill="#b5d3f9"/><rect x="374.14" y="321.36" width="17.38" height="14.38" fill="#cadaed"/><rect x="391.52" y="321.36" width="17.38" height="14.38" fill="#9fc8ff"/><rect x="408.90" y="321.36" width="17.38" height="14.38" fill="#d30122"/><rect x="426.27" y="321.36" width="17.38" height="14.38" fill="#9fc8ff"/><rect x="443.65" y="321.36" width="17.38" height="14.38" fill="#ffc9b3"/><rect x="461.02" y="321.36" width="17.38" height="14.38" fill="#cadaed"/><rect x="44.00" y="335.75" width="17.38" height="14.38" fill="#cadaed"/><rect x="61.38" y="335.75" width="17.38" height="14.38" fill="#b5d3f9"/><rect x="78.75" y="335.75" width="17.38" height="14.38" fill="#cadaed"/><rect x="96.13" y="335.75" width="17.38" height="14.38" fill="#cadaed"/><rect x="113.50" y="335.75" width="17.38" height="14.38" fill="#cadaed"/><rect x="130.88" y="335.75" width="17.38" height="14.38" fill="#cadaed"/><rect x="148.26" y="335.75" width="17.38" height="14.38" fill="#cadaed"/><rect x="165.63" y="335.75" width="17.38" height="14.38" fill="#b5d3f9"/><rect x="183.01" y="335.75" width="17.38" height="14.38" fill="#dedddd"/><rect x="200.38" y="335.75" width="17.38" height="14.38" fill="#cadaed"/><rect x="217.76" y="335.75" width="17.38" height="14.38" fill="#cadaed"/><rect x="235.14" y="335.75" width="17.38" height="14.38" fill="#cadaed"/><rect x="252.51" y="335.75" width="17.38" height="14.38" fill="#cadaed"/><rect x="269.89" y="335.75" width="17.38" height="14.38" fill="#b5d3f9"/><rect x="287.26" y="335.75" width="17.38" height="14.38" fill="#dedddd"/><rect x="304.64" y="335.75" width="17.38" height="14.38" fill="#cadaed"/><rect x="322.02" y="335.75" width="17.38" height="14.38" fill="#dedddd"/><rect x="339.39" y="335.75" width="17.38" height="14.38" fill="#dedddd"/><rect x="356.77" y="335.75" width="17.38" height="14.38" fill="#cadaed"/><rect x="374.14" y="335.75" width="17.38" height="14.38" fill="#cadaed"/><rect x="391.52" y="335.75" width="17.38" height="14.38" fill="#cadaed"/><rect x="408.90" y="335.75" width="17.38" height="14.38" fill="#9fc8ff"/><rect x="426.27" y="335.75" width="17.38" height="14.38" fill="#d30122"/><rect x="443.65" y="335.75" width="17.38" height="14.38" fill="#b5d3f9"/><rect x="461.02" y="335.75" width="17.38" height="14.38" fill="#dedddd"/><rect x="44.00" y="350.13" width="17.38" height="14.38" fill="#cadaed"/><rect x="61.38" y="350.13" width="17.38" height="14.38" fill="#cadaed"/><rect x="78.75" y="350.13" width="17.38" height="14.38" fill="#cadaed"/><rect x="96.13" y="350.13" width="17.38" height="14.38" fill="#dedddd"/><rect x="113.50" y="350.13" width="17.38" height="14.38" fill="#cadaed"/><rect x="130.88" y="350.13" width="17.38" height="14.38" fill="#cadaed"/><rect x="148.26" y="350.13" width="17.38" height="14.38" fill="#cadaed"/><rect x="165.63" y="350.13" width="17.38" height="14.38" fill="#f3d5c8"/><rect x="183.01" y="350.13" width="17.38" height="14.38" fill="#cadaed"/><rect x="200.38" y="350.13" width="17.38" height="14.38" fill="#cadaed"/><rect x="217.76" y="350.13" width="17.38" height="14.38" fill="#cadaed"/><rect x="235.14" y="350.13" width="17.38" height="14.38" fill="#b5d3f9"/><rect x="252.51" y="350.13" width="17.38" height="14.38" fill="#cadaed"/><rect x="269.89" y="350.13" width="17.38" height="14.38" fill="#cadaed"/><rect x="287.26" y="350.13" width="17.38" height="14.38" fill="#b5d3f9"/><rect x="304.64" y="350.13" width="17.38" height="14.38" fill="#9fc8ff"/><rect x="322.02" y="350.13" width="17.38" height="14.38" fill="#b5d3f9"/><rect x="339.39" y="350.13" width="17.38" height="14.38" fill="#71a7fe"/><rect x="356.77" y="350.13" width="17.38" height="14.38" fill="#ffc9b3"/><rect x="374.14" y="350.13" width="17.38" height="14.38" fill="#9fc8ff"/><rect x="391.52" y="350.13" width="17.38" height="14.38" fill="#88baff"/><rect x="408.90" y="350.13" width="17.38" height="14.38" fill="#ffc9b3"/><rect x="426.27" y="350.13" width="17.38" height="14.38" fill="#b5d3f9"/><rect x="443.65" y="350.13" width="17.38" height="14.38" fill="#d30122"/><rect x="461.02" y="350.13" width="17.38" height="14.38" fill="#9fc8ff"/><rect x="44.00" y="364.52" width="17.38" height="14.38" fill="#cadaed"/><rect x="61.38" y="364.52" width="17.38" height="14.38" fill="#cadaed"/><rect x="78.75" y="364.52" width="17.38" height="14.38" fill="#cadaed"/><rect x="96.13" y="364.52" width="17.38" height="14.38" fill="#cadaed"/><rect x="113.50" y="364.52" width="17.38" height="14.38" fill="#cadaed"/><rect x="130.88" y="364.52" width="17.38" height="14.38" fill="#cadaed"/><rect x="148.26" y="364.52" width="17.38" height="14.38" fill="#cadaed"/><rect x="165.63" y="364.52" width="17.38" height="14.38" fill="#cadaed"/><rect x="183.01" y="364.52" width="17.38" height="14.38" fill="#cadaed"/><rect x="200.38" y="364.52" width="17.38" height="14.38" fill="#cadaed"/><rect x="217.76" y="364.52" width="17.38" height="14.38" fill="#cadaed"/><rect x="235.14" y="364.52" width="17.38" height="14.38" fill="#cadaed"/><rect x="252.51" y="364.52" width="17.38" height="14.38" fill="#cadaed"/><rect x="269.89" y="364.52" width="17.38" height="14.38" fill="#dedddd"/><rect x="287.26" y="364.52" width="17.38" height="14.38" fill="#b5d3f9"/><rect x="304.64" y="364.52" width="17.38" height="14.38" fill="#cadaed"/><rect x="322.02" y="364.52" width="17.38" height="14.38" fill="#cadaed"/><rect x="339.39" y="364.52" width="17.38" height="14.38" fill="#dedddd"/><rect x="356.77" y="364.52" width="17.38" height="14.38" fill="#b5d3f9"/><rect x="374.14" y="364.52" width="17.38" height="14.38" fill="#cadaed"/><rect x="391.52" y="364.52" width="17.38" height="14.38" fill="#cadaed"/><rect x="408.90" y="364.52" width="17.38" height="14.38" fill="#cadaed"/><rect x="426.27" y="364.52" width="17.38" height="14.38" fill="#dedddd"/><rect x="443.65" y="364.52" width="17.38" height="14.38" fill="#9fc8ff"/><rect x="461.02" y="364.52" width="17.38" height="14.38" fill="#d30122"/></g>
<g font-family="Liberation Serif, serif" font-size="8.0" stroke-width="0.18" text-anchor="middle" dominant-baseline="central"><text x="52.69" y="26.79" fill="#ffffff" stroke="#ffffff">1.0</text><text x="70.06" y="26.79" fill="#262626" stroke="#262626">0.0</text><text x="87.44" y="26.79" fill="#262626" stroke="#262626">0.0</text><text x="104.82" y="26.79" fill="#262626" stroke="#262626">0.2</text><text x="122.19" y="26.79" fill="#262626" stroke="#262626">0.0</text><text x="139.57" y="26.79" fill="#ffffff" stroke="#ffffff">−0.8</text><text x="156.94" y="26.79" fill="#ffffff" stroke="#ffffff">−0.5</text><text x="174.32" y="26.79" fill="#262626" stroke="#262626">0.0</text><text x="191.70" y="26.79" fill="#262626" stroke="#262626">0.0</text><text x="209.07" y="26.79" fill="#262626" stroke="#262626">0.0</text><text x="226.45" y="26.79" fill="#262626" stroke="#262626">0.0</text><text x="243.82" y="26.79" fill="#262626" stroke="#262626">−0.2</text><text x="261.20" y="26.79" fill="#262626" stroke="#262626">0.0</text><text x="278.58" y="26.79" fill="#262626" stroke="#262626">0.0</text><text x="295.95" y="26.79" fill="#262626" stroke="#262626">0.0</text><text x="313.33" y="26.79" fill="#262626" stroke="#262626">0.0</text><text x="330.70" y="26.79" fill="#262626" stroke="#262626">0.0</text><text x="348.08" y="26.79" fill="#262626" stroke="#262626">0.0</text><text x="365.46" y="26.79" fill="#262626" stroke="#262626">0.0</text><text x="382.83" y="26.79" fill="#262626" stroke="#262626">0.0</text><text x="400.21" y="26.79" fill="#262626" stroke="#262626">0.0</text><text x="417.58" y="26.79" fill="#262626" stroke="#262626">0.0</text><text x="434.96" y="26.79" fill="#262626" stroke="#262626">0.0</text><text x="452.34" y="26.79" fill="#262626" stroke="#262626">0.0</text><text x="469.71" y="26.79" fill="#262626" stroke="#262626">0.0</text><text x="52.69" y="41.18" fill="#262626" stroke="#262626">0.0</text><text x="70.06" y="41.18" fill="#ffffff" stroke="#ffffff">1.0</text><text x="87.44" y="41.18" fill="#262626" stroke="#262626">−0.1</text><text x="104.82" y="41.18" fill="#262626" stroke="#262626">0.0</text><text x="122.19" y="41.18" fill="#262626" stroke="#262626">−0.1</text><text x="139.57" y="41.18" fill="#262626" stroke="#262626">0.0</text><text x="156.94" y="41.18" fill="#262626" stroke="#262626">0.0</text><text x="174.32" y="41.18" fill="#262626" stroke="#262626">0.1</text><text x="191.70" y="41.18" fill="#262626" stroke="#262626">−0.1</text><text x="209.07" y="41.18" fill="#262626" stroke="#262626">−0.1</text><text x="226.45" y="41.18" fill="#262626" stroke="#262626">0.0</text><text x="243.82" y="41.18" fill="#262626" stroke="#262626">−0.3</text><text x="261.20" y="41.18" fill="#262626" stroke="#262626">0.0</text><text x="278.58" y="41.18" fill="#262626" stroke="#262626">0.1</text><text x="295.95" y="41.18" fill="#262626" stroke="#262626">−0.3</text><text x="313.33" y="41.18" fill="#262626" stroke="#262626">−0.2</text><text x="330.70" y="41.18" fill="#262626" stroke="#262626">0.0</text><text x="348.08" y="41.18" fill="#262626" stroke="#262626">0.0</text><text x="365.46" y="41.18" fill="#262626" stroke="#262626">0.0</text><text x="382.83" y="41.18" fill="#262626" stroke="#262626">0.0</text><text x="400.21" y="41.18" fill="#262626" stroke="#262626">0.0</text><text x="417.58" y="41.18" fill="#262626" stroke="#262626">0.2</text><text x="434.96" y="41.18" fill="#262626" stroke="#262626">−0.1</text><text x="452.34" y="41.18" fill="#262626" stroke="#262626">0.0</text><text x="469.71" y="41.18" fill="#262626" stroke="#262626">0.0</text><text x="52.69" y="55.56" fill="#262626" stroke="#262626">0.0</text><text x="70.06" y="55.56" fill="#262626" stroke="#262626">−0.1</text><text x="87.44" y="55.56" fill="#ffffff" stroke="#ffffff">1.0</text><text x="104.82" y="55.56" fill="#262626" stroke="#262626">0.4</text><text x="122.19" y="55.56" fill="#ffffff" stroke="#ffffff">0.8</text><text x="139.57" y="55.56" fill="#262626" stroke="#262626">0.0</text><text x="156.94" y="55.56" fill="#262626" stroke="#262626">0.0</text><text x="174.32" y="55.56" fill="#262626" stroke="#262626">−0.3</text><text x="191.70" y="55.56" fill="#262626" stroke="#262626">0.1</text><text x="209.07" y="55.56" fill="#ffffff" stroke="#ffffff">0.9</text><text x="226.45" y="55.56" fill="#262626" stroke="#262626">0.0</text><text x="243.82" y="55.56" fill="#262626" stroke="#262626">0.5</text><text x="261.20" y="55.56" fill="#262626" stroke="#262626">0.0</text><text x="278.58" y="55.56" fill="#262626" stroke="#262626">−0.2</text><text x="295.95" y="55.56" fill="#262626" stroke="#262626">0.4</text><text x="313.33" y="55.56" fill="#262626" stroke="#262626">0.4</text><text x="330.70" y="55.56" fill="#262626" stroke="#262626">−0.2</text><text x="348.08" y="55.56" fill="#262626" stroke="#262626">−0.1</text><text x="365.46" y="55.56" fill="#262626" stroke="#262626">0.1</text><text x="382.83" y="55.56" fill="#262626" stroke="#262626">0.0</text><text x="400.21" y="55.56" fill="#262626" stroke="#262626">0.0</text><text x="417.58" y="55.56" fill="#ffffff" stroke="#ffffff">−0.4</text><text x="434.96" y="55.56" fill="#262626" stroke="#262626">0.0</text><text x="452.34" y="55.56" fill="#262626" stroke="#262626">0.0</text><text x="469.71" y="55.56" fill="#262626" stroke="#262626">0.0</text><text x="52.69" y="69.94" fill="#262626" stroke="#262626">0.2</text><text x="70.06" y="69.94" fill="#262626" stroke="#262626">0.0</text><text x="87.44" y="69.94" fill="#262626" stroke="#262626">0.4</text><text x="104.82" y="69.94" fill="#ffffff" stroke="#ffffff">1.0</text><text x="122.19" y="69.94" fill="#262626" stroke="#262626">0.3</text><text x="139.57" y="69.94" fill="#262626" stroke="#262626">−0.1</text><text x="156.94" y="69.94" fill="#262626" stroke="#262626">0.0</text><text x="174.32" y="69.94" fill="#262626" stroke="#262626">0.0</text><text x="191.70" y="69.94" fill="#262626" stroke="#262626">−0.2</text><text x="209.07" y="69.94" fill="#262626" stroke="#262626">0.4</text><text x="226.45" y="69.94" fill="#262626" stroke="#262626">0.0</text><text x="243.82" y="69.94" fill="#262626" stroke="#262626">−0.3</text><text x="261.20" y="69.94" fill="#262626" stroke="#262626">0.0</text><text x="278.58" y="69.94" fill="#262626" stroke="#262626">0.0</text><text x="295.95" y="69.94" fill="#262626" stroke="#262626">0.0</text><text x="313.33" y="69.94" fill="#262626" stroke="#262626">0.0</text><text x="330.70" y="69.94" fill="#262626" stroke="#262626">0.0</text><text x="348.08" y="69.94" fill="#262626" stroke="#262626">−0.1</text><text x="365.46" y="69.94" fill="#262626" stroke="#262626">0.1</text><text x="382.83" y="69.94" fill="#262626" stroke="#262626">0.0</text><text x="400.21" y="69.94" fill="#262626" stroke="#262626">0.0</text><text x="417.58" y="69.94" fill="#262626" stroke="#262626">−0.2</text><text x="434.96" y="69.94" fill="#262626" stroke="#262626">0.0</text><text x="452.34" y="69.94" fill="#262626" stroke="#262626">0.1</text><text x="469.71" y="69.94" fill="#262626" stroke="#262626">0.0</text><text x="52.69" y="84.33" fill="#262626" stroke="#262626">0.0</text><text x="70.06" y="84.33" fill="#262626" stroke="#262626">−0.1</text><text x="87.44" y="84.33" fill="#ffffff" stroke="#ffffff">0.8</text><text x="104.82" y="84.33" fill="#262626" stroke="#262626">0.3</text><text x="122.19" y="84.33" fill="#ffffff" stroke="#ffffff">1.0</text><text x="139.57" y="84.33" fill="#262626" stroke="#262626">0.0</text><text x="156.94" y="84.33" fill="#262626" stroke="#262626">0.0</text><text x="174.32" y="84.33" fill="#262626" stroke="#262626">−0.2</text><text x="191.70" y="84.33" fill="#262626" stroke="#262626">0.0</text><text x="209.07" y="84.33" fill="#ffffff" stroke="#ffffff">0.9</text><text x="226.45" y="84.33" fill="#262626" stroke="#262626">0.0</text><text x="243.82" y="84.33" fill="#262626" stroke="#262626">0.4</text><text x="261.20" y="84.33" fill="#262626" stroke="#262626">0.0</text><text x="278.58" y="84.33" fill="#262626" stroke="#262626">−0.1</text><text x="295.95" y="84.33" fill="#262626" stroke="#262626">0.3</text><text x="313.33" y="84.33" fill="#262626" stroke="#262626">0.3</text><text x="330.70" y="84.33" fill="#262626" stroke="#262626">−0.1</text><text x="348.08" y="84.33" fill="#262626" stroke="#262626">−0.1</text><text x="365.46" y="84.33" fill="#262626" stroke="#262626">0.0</text><text x="382.83" y="84.33" fill="#262626" stroke="#262626">0.0</text><text x="400.21" y="84.33" fill="#262626" stroke="#262626">0.0</text><text x="417.58" y="84.33" fill="#262626" stroke="#262626">−0.2</text><text x="434.96" y="84.33" fill="#262626" stroke="#262626">0.0</text><text x="452.34" y="84.33" fill="#262626" stroke="#262626">0.0</text><text x="469.71" y="84.33" fill="#262626" stroke="#262626">0.0</text><text x="52.69" y="98.71" fill="#ffffff" stroke="#ffffff">−0.8</text><text x="70.06" y="98.71" fill="#262626" stroke="#262626">0.0</text><text x="87.44" y="98.71" fill="#262626" stroke="#262626">0.0</text><text x="104.82" y="98.71" fill="#262626" stroke="#262626">−0.1</text><text x="122.19" y="98.71" fill="#262626" stroke="#262626">0.0</text><text x="139.57" y="98.71" fill="#ffffff" stroke="#ffffff">1.0</text><text x="156.94" y="98.71" fill="#ffffff" stroke="#ffffff">0.8</text><text x="174.32" y="98.71" fill="#262626" stroke="#262626">0.0</text><text x="191.70" y="98.71" fill="#262626" stroke="#262626">0.0</text><text x="209.07" y="98.71" fill="#262626" stroke="#262626">0.0</text><text x="226.45" y="98.71" fill="#262626" stroke="#262626">0.0</text><text x="243.82" y="98.71" fill="#262626" stroke="#262626">0.2</text><text x="261.20" y="98.71" fill="#262626" stroke="#262626">0.0</text><text x="278.58" y="98.71" fill="#262626" stroke="#262626">0.0</text><text x="295.95" y="98.71" fill="#262626" stroke="#262626">0.0</text><text x="313.33" y="98.71" fill="#262626" stroke="#262626">0.0</text><text x="330.70" y="98.71" fill="#262626" stroke="#262626">0.0</text><text x="348.08" y="98.71" fill="#262626" stroke="#262626">0.0</text><text x="365.46" y="98.71" fill="#262626" stroke="#262626">0.0</text><text x="382.83" y="98.71" fill="#262626" stroke="#262626">0.0</text><text x="400.21" y="98.71" fill="#262626" stroke="#262626">0.0</text><text x="417.58" y="98.71" fill="#262626" stroke="#262626">0.0</text><text x="434.96" y="98.71" fill="#262626" stroke="#262626">0.0</text><text x="452.34" y="98.71" fill="#262626" stroke="#262626">0.0</text><text x="469.71" y="98.71" fill="#262626" stroke="#262626">0.0</text><text x="52.69" y="113.10" fill="#ffffff" stroke="#ffffff">−0.5</text><text x="70.06" y="113.10" fill="#262626" stroke="#262626">0.0</text><text x="87.44" y="113.10" fill="#262626" stroke="#262626">0.0</text><text x="104.82" y="113.10" fill="#262626" stroke="#262626">0.0</text><text x="122.19" y="113.10" fill="#262626" stroke="#262626">0.0</text><text x="139.57" y="113.10" fill="#ffffff" stroke="#ffffff">0.8</text><text x="156.94" y="113.10" fill="#ffffff" stroke="#ffffff">1.0</text><text x="174.32" y="113.10" fill="#262626" stroke="#262626">0.0</text><text x="191.70" y="113.10" fill="#262626" stroke="#262626">0.0</text><text x="209.07" y="113.10" fill="#262626" stroke="#262626">0.0</text><text x="226.45" y="113.10" fill="#262626" stroke="#262626">0.0</text><text x="243.82" y="113.10" fill="#262626" stroke="#262626">0.1</text><text x="261.20" y="113.10" fill="#262626" stroke="#262626">0.0</text><text x="278.58" y="113.10" fill="#262626" stroke="#262626">0.0</text><text x="295.95" y="113.10" fill="#262626" stroke="#262626">0.0</text><text x="313.33" y="113.10" fill="#262626" stroke="#262626">0.0</text><text x="330.70" y="113.10" fill="#262626" stroke="#262626">0.0</text><text x="348.08" y="113.10" fill="#262626" stroke="#262626">0.0</text><text x="365.46" y="113.10" fill="#262626" stroke="#262626">0.0</text><text x="382.83" y="113.10" fill="#262626" stroke="#262626">0.0</text><text x="400.21" y="113.10" fill="#262626" stroke="#262626">0.0</text><text x="417.58" y="113.10" fill="#262626" stroke="#262626">0.0</text><text x="434.96" y="113.10" fill="#262626" stroke="#262626">0.0</text><text x="452.34" y="113.10" fill="#262626" stroke="#262626">0.0</text><text x="469.71" y="113.10" fill="#262626" stroke="#262626">0.0</text><text x="52.69" y="127.48" fill="#262626" stroke="#262626">0.0</text><text x="70.06" y="127.48" fill="#262626" stroke="#262626">0.1</text><text x="87.44" y="127.48" fill="#262626" stroke="#262626">−0.3</text><text x="104.82" y="127.48" fill="#262626" stroke="#262626">0.0</text><text x="122.19" y="127.48" fill="#262626" stroke="#262626">−0.2</text><text x="139.57" y="127.48" fill="#262626" stroke="#262626">0.0</text><text x="156.94" y="127.48" fill="#262626" stroke="#262626">0.0</text><text x="174.32" y="127.48" fill="#ffffff" stroke="#ffffff">1.0</text><text x="191.70" y="127.48" fill="#ffffff" stroke="#ffffff">−0.4</text><text x="209.07" y="127.48" fill="#262626" stroke="#262626">−0.3</text><text x="226.45" y="127.48" fill="#262626" stroke="#262626">0.0</text><text x="243.82" y="127.48" fill="#ffffff" stroke="#ffffff">−0.4</text><text x="261.20" y="127.48" fill="#262626" stroke="#262626">0.0</text><text x="278.58" y="127.48" fill="#262626" stroke="#262626">0.2</text><text x="295.95" y="127.48" fill="#262626" stroke="#262626">−0.2</text><text x="313.33" y="127.48" fill="#262626" stroke="#262626">−0.2</text><text x="330.70" y="127.48" fill="#262626" stroke="#262626">−0.1</text><text x="348.08" y="127.48" fill="#262626" stroke="#262626">0.0</text><text x="365.46" y="127.48" fill="#262626" stroke="#262626">0.0</text><text x="382.83" y="127.48" fill="#262626" stroke="#262626">0.0</text><text x="400.21" y="127.48" fill="#262626" stroke="#262626">0.0</text><text x="417.58" y="127.48" fill="#ffffff" stroke="#ffffff">0.6</text><text x="434.96" y="127.48" fill="#262626" stroke="#262626">−0.1</text><text x="452.34" y="127.48" fill="#262626" stroke="#262626">0.2</text><text x="469.71" y="127.48" fill="#262626" stroke="#262626">0.0</text><text x="52.69" y="141.86" fill="#262626" stroke="#262626">0.0</text><text x="70.06" y="141.86" fill="#262626" stroke="#262626">−0.1</text><text x="87.44" y="141.86" fill="#262626" stroke="#262626">0.1</text><text x="104.82" y="141.86" fill="#262626" stroke="#262626">−0.2</text><text x="122.19" y="141.86" fill="#262626" stroke="#262626">0.0</text><text x="139.57" y="141.86" fill="#262626" stroke="#262626">0.0</text><text x="156.94" y="141.86" fill="#262626" stroke="#262626">0.0</text><text x="174.32" y="141.86" fill="#ffffff" stroke="#ffffff">−0.4</text><text x="191.70" y="141.86" fill="#ffffff" stroke="#ffffff">1.0</text><text x="209.07" y="141.86" fill="#262626" stroke="#262626">0.1</text><text x="226.45" y="141.86" fill="#262626" stroke="#262626">0.0</text><text x="243.82" y="141.86" fill="#262626" stroke="#262626">0.4</text><text x="261.20" y="141.86" fill="#262626" stroke="#262626">0.0</text><text x="278.58" y="141.86" fill="#262626" stroke="#262626">−0.1</text><text x="295.95" y="141.86" fill="#262626" stroke="#262626">0.1</text><text x="313.33" y="141.86" fill="#262626" stroke="#262626">0.0</text><text x="330.70" y="141.86" fill="#262626" stroke="#262626">0.0</text><text x="348.08" y="141.86" fill="#262626" stroke="#262626">0.0</text><text x="365.46" y="141.86" fill="#262626" stroke="#262626">0.0</text><text x="382.83" y="141.86" fill="#262626" stroke="#262626">0.0</text><text x="400.21" y="141.86" fill="#262626" stroke="#262626">0.0</text><text x="417.58" y="141.86" fill="#262626" stroke="#262626">−0.2</text><text x="434.96" y="141.86" fill="#262626" stroke="#262626">0.1</text><text x="452.34" y="141.86" fill="#262626" stroke="#262626">0.0</text><text x="469.71" y="141.86" fill="#262626" stroke="#262626">0.0</text><text x="52.69" y="156.25" fill="#262626" stroke="#262626">0.0</text><text x="70.06" y="156.25" fill="#262626" stroke="#262626">−0.1</text><text x="87.44" y="156.25" fill="#ffffff" stroke="#ffffff">0.9</text><text x="104.82" y="156.25" fill="#262626" stroke="#262626">0.4</text><text x="122.19" y="156.25" fill="#ffffff" stroke="#ffffff">0.9</text><text x="139.57" y="156.25" fill="#262626" stroke="#262626">0.0</text><text x="156.94" y="156.25" fill="#262626" stroke="#262626">0.0</text><text x="174.32" y="156.25" fill="#262626" stroke="#262626">−0.3</text><text x="191.70" y="156.25" fill="#262626" stroke="#262626">0.1</text><text x="209.07" y="156.25" fill="#ffffff" stroke="#ffffff">1.0</text><text x="226.45" y="156.25" fill="#262626" stroke="#262626">0.0</text><text x="243.82" y="156.25" fill="#262626" stroke="#262626">0.4</text><text x="261.20" y="156.25" fill="#262626" stroke="#262626">0.0</text><text x="278.58" y="156.25" fill="#262626" stroke="#262626">−0.2</text><text x="295.95" y="156.25" fill="#262626" stroke="#262626">0.3</text><text x="313.33" y="156.25" fill="#262626" stroke="#262626">0.4</text><text x="330.70" y="156.25" fill="#262626" stroke="#262626">−0.2</text><text x="348.08" y="156.25" fill="#262626" stroke="#262626">−0.1</text><text x="365.46" y="156.25" fill="#262626" stroke="#262626">0.0</text><text x="382.83" y="156.25" fill="#262626" stroke="#262626">0.0</text><text x="400.21" y="156.25" fill="#262626" stroke="#262626">0.0</text><text x="417.58" y="156.25" fill="#262626" stroke="#262626">−0.3</text><text x="434.96" y="156.25" fill="#262626" stroke="#262626">0.0</text><text x="452.34" y="156.25" fill="#262626" stroke="#262626">0.0</text><text x="469.71" y="156.25" fill="#262626" stroke="#262626">0.0</text><text x="52.69" y="170.63" fill="#262626" stroke="#262626">0.0</text><text x="70.06" y="170.63" fill="#262626" stroke="#262626">0.0</text><text x="87.44" y="170.63" fill="#262626" stroke="#262626">0.0</text><text x="104.82" y="170.63" fill="#262626" stroke="#262626">0.0</text><text x="122.19" y="170.63" fill="#262626" stroke="#262626">0.0</text><text x="139.57" y="170.63" fill="#262626" stroke="#262626">0.0</text><text x="156.94" y="170.63" fill="#262626" stroke="#262626">0.0</text><text x="174.32" y="170.63" fill="#262626" stroke="#262626">0.0</text><text x="191.70" y="170.63" fill="#262626" stroke="#262626">0.0</text><text x="209.07" y="170.63" fill="#262626" stroke="#262626">0.0</text><text x="226.45" y="170.63" fill="#ffffff" stroke="#ffffff">1.0</text><text x="243.82" y="170.63" fill="#262626" stroke="#262626">0.0</text><text x="261.20" y="170.63" fill="#262626" stroke="#262626">0.0</text><text x="278.58" y="170.63" fill="#262626" stroke="#262626">0.0</text><text x="295.95" y="170.63" fill="#262626" stroke="#262626">0.0</text><text x="313.33" y="170.63" fill="#262626" stroke="#262626">0.0</text><text x="330.70" y="170.63" fill="#262626" stroke="#262626">−0.1</text><text x="348.08" y="170.63" fill="#262626" stroke="#262626">0.0</text><text x="365.46" y="170.63" fill="#262626" stroke="#262626">0.0</text><text x="382.83" y="170.63" fill="#262626" stroke="#262626">0.1</text><text x="400.21" y="170.63" fill="#262626" stroke="#262626">0.0</text><text x="417.58" y="170.63" fill="#262626" stroke="#262626">0.0</text><text x="434.96" y="170.63" fill="#262626" stroke="#262626">0.0</text><text x="452.34" y="170.63" fill="#262626" stroke="#262626">0.0</text><text x="469.71" y="170.63" fill="#262626" stroke="#262626">0.0</text><text x="52.69" y="185.02" fill="#262626" stroke="#262626">−0.2</text><text x="70.06" y="185.02" fill="#262626" stroke="#262626">−0.3</text><text x="87.44" y="185.02" fill="#262626" stroke="#262626">0.5</text><text x="104.82" y="185.02" fill="#262626" stroke="#262626">−0.3</text><text x="122.19" y="185.02" fill="#262626" stroke="#262626">0.4</text><text x="139.57" y="185.02" fill="#262626" stroke="#262626">0.2</text><text x="156.94" y="185.02" fill="#262626" stroke="#262626">0.1</text><text x="174.32" y="185.02" fill="#ffffff" stroke="#ffffff">−0.4</text><text x="191.70" y="185.02" fill="#262626" stroke="#262626">0.4</text><text x="209.07" y="185.02" fill="#262626" stroke="#262626">0.4</text><text x="226.45" y="185.02" fill="#262626" stroke="#262626">0.0</text><text x="243.82" y="185.02" fill="#ffffff" stroke="#ffffff">1.0</text><text x="261.20" y="185.02" fill="#262626" stroke="#262626">0.0</text><text x="278.58" y="185.02" fill="#262626" stroke="#262626">−0.3</text><text x="295.95" y="185.02" fill="#262626" stroke="#262626">0.5</text><text x="313.33" y="185.02" fill="#262626" stroke="#262626">0.4</text><text x="330.70" y="185.02" fill="#262626" stroke="#262626">−0.2</text><text x="348.08" y="185.02" fill="#262626" stroke="#262626">0.0</text><text x="365.46" y="185.02" fill="#262626" stroke="#262626">0.0</text><text x="382.83" y="185.02" fill="#262626" stroke="#262626">0.1</text><text x="400.21" y="185.02" fill="#262626" stroke="#262626">0.0</text><text x="417.58" y="185.02" fill="#262626" stroke="#262626">−0.3</text><text x="434.96" y="185.02" fill="#262626" stroke="#262626">0.0</text><text x="452.34" y="185.02" fill="#262626" stroke="#262626">−0.1</text><text x="469.71" y="185.02" fill="#262626" stroke="#262626">0.0</text><text x="52.69" y="199.40" fill="#262626" stroke="#262626">0.0</text><text x="70.06" y="199.40" fill="#262626" stroke="#262626">0.0</text><text x="87.44" y="199.40" fill="#262626" stroke="#262626">0.0</text><text x="104.82" y="199.40" fill="#262626" stroke="#262626">0.0</text><text x="122.19" y="199.40" fill="#262626" stroke="#262626">0.0</text><text x="139.57" y="199.40" fill="#262626" stroke="#262626">0.0</text><text x="156.94" y="199.40" fill="#262626" stroke="#262626">0.0</text><text x="174.32" y="199.40" fill="#262626" stroke="#262626">0.0</text><text x="191.70" y="199.40" fill="#262626" stroke="#262626">0.0</text><text x="209.07" y="199.40" fill="#262626" stroke="#262626">0.0</text><text x="226.45" y="199.40" fill="#262626" stroke="#262626">0.0</text><text x="243.82" y="199.40" fill="#262626" stroke="#262626">0.0</text><text x="261.20" y="199.40" fill="#ffffff" stroke="#ffffff">1.0</text><text x="278.58" y="199.40" fill="#262626" stroke="#262626">0.0</text><text x="295.95" y="199.40" fill="#262626" stroke="#262626">0.0</text><text x="313.33" y="199.40" fill="#262626" stroke="#262626">0.0</text><text x="330.70" y="199.40" fill="#262626" stroke="#262626">0.0</text><text x="348.08" y="199.40" fill="#262626" stroke="#262626">0.0</text><text x="365.46" y="199.40" fill="#262626" stroke="#262626">0.0</text><text x="382.83" y="199.40" fill="#262626" stroke="#262626">0.0</text><text x="400.21" y="199.40" fill="#262626" stroke="#262626">0.0</text><text x="417.58" y="199.40" fill="#262626" stroke="#262626">0.0</text><text x="434.96" y="199.40" fill="#262626" stroke="#262626">0.0</text><text x="452.34" y="199.40" fill="#262626" stroke="#262626">0.0</text><text x="469.71" y="199.40" fill="#262626" stroke="#262626">0.0</text><text x="52.69" y="213.78" fill="#262626" stroke="#262626">0.0</text><text x="70.06" y="213.78" fill="#262626" stroke="#262626">0.1</text><text x="87.44" y="213.78" fill="#262626" stroke="#262626">−0.2</text><text x="104.82" y="213.78" fill="#262626" stroke="#262626">0.0</text><text x="122.19" y="213.78" fill="#262626" stroke="#262626">−0.1</text><text x="139.57" y="213.78" fill="#262626" stroke="#262626">0.0</text><text x="156.94" y="213.78" fill="#262626" stroke="#262626">0.0</text><text x="174.32" y="213.78" fill="#262626" stroke="#262626">0.2</text><text x="191.70" y="213.78" fill="#262626" stroke="#262626">−0.1</text><text x="209.07" y="213.78" fill="#262626" stroke="#262626">−0.2</text><text x="226.45" y="213.78" fill="#262626" stroke="#262626">0.0</text><text x="243.82" y="213.78" fill="#262626" stroke="#262626">−0.3</text><text x="261.20" y="213.78" fill="#262626" stroke="#262626">0.0</text><text x="278.58" y="213.78" fill="#ffffff" stroke="#ffffff">1.0</text><text x="295.95" y="213.78" fill="#ffffff" stroke="#ffffff">−0.5</text><text x="313.33" y="213.78" fill="#262626" stroke="#262626">−0.2</text><text x="330.70" y="213.78" fill="#262626" stroke="#262626">0.1</text><text x="348.08" y="213.78" fill="#262626" stroke="#262626">0.2</text><text x="365.46" y="213.78" fill="#262626" stroke="#262626">−0.2</text><text x="382.83" y="213.78" fill="#262626" stroke="#262626">0.0</text><text x="400.21" y="213.78" fill="#262626" stroke="#262626">0.1</text><text x="417.58" y="213.78" fill="#262626" stroke="#262626">0.1</text><text x="434.96" y="213.78" fill="#262626" stroke="#262626">−0.1</text><text x="452.34" y="213.78" fill="#262626" stroke="#262626">0.0</text><text x="469.71" y="213.78" fill="#262626" stroke="#262626">0.1</text><text x="52.69" y="228.17" fill="#262626" stroke="#262626">0.0</text><text x="70.06" y="228.17" fill="#262626" stroke="#262626">−0.3</text><text x="87.44" y="228.17" fill="#262626" stroke="#262626">0.4</text><text x="104.82" y="228.17" fill="#262626" stroke="#262626">0.0</text><text x="122.19" y="228.17" fill="#262626" stroke="#262626">0.3</text><text x="139.57" y="228.17" fill="#262626" stroke="#262626">0.0</text><text x="156.94" y="228.17" fill="#262626" stroke="#262626">0.0</text><text x="174.32" y="228.17" fill="#262626" stroke="#262626">−0.2</text><text x="191.70" y="228.17" fill="#262626" stroke="#262626">0.1</text><text x="209.07" y="228.17" fill="#262626" stroke="#262626">0.3</text><text x="226.45" y="228.17" fill="#262626" stroke="#262626">0.0</text><text x="243.82" y="228.17" fill="#262626" stroke="#262626">0.5</text><text x="261.20" y="228.17" fill="#262626" stroke="#262626">0.0</text><text x="278.58" y="228.17" fill="#ffffff" stroke="#ffffff">−0.5</text><text x="295.95" y="228.17" fill="#ffffff" stroke="#ffffff">1.0</text><text x="313.33" y="228.17" fill="#262626" stroke="#262626">0.5</text><text x="330.70" y="228.17" fill="#262626" stroke="#262626">−0.3</text><text x="348.08" y="228.17" fill="#262626" stroke="#262626">−0.2</text><text x="365.46" y="228.17" fill="#262626" stroke="#262626">0.2</text><text x="382.83" y="228.17" fill="#262626" stroke="#262626">0.1</text><text x="400.21" y="228.17" fill="#262626" stroke="#262626">0.0</text><text x="417.58" y="228.17" fill="#262626" stroke="#262626">−0.3</text><text x="434.96" y="228.17" fill="#262626" stroke="#262626">0.1</text><text x="452.34" y="228.17" fill="#262626" stroke="#262626">−0.1</text><text x="469.71" y="228.17" fill="#262626" stroke="#262626">−0.1</text><text x="52.69" y="242.55" fill="#262626" stroke="#262626">0.0</text><text x="70.06" y="242.55" fill="#262626" stroke="#262626">−0.2</text><text x="87.44" y="242.55" fill="#262626" stroke="#262626">0.4</text><text x="104.82" y="242.55" fill="#262626" stroke="#262626">0.0</text><text x="122.19" y="242.55" fill="#262626" stroke="#262626">0.3</text><text x="139.57" y="242.55" fill="#262626" stroke="#262626">0.0</text><text x="156.94" y="242.55" fill="#262626" stroke="#262626">0.0</text><text x="174.32" y="242.55" fill="#262626" stroke="#262626">−0.2</text><text x="191.70" y="242.55" fill="#262626" stroke="#262626">0.0</text><text x="209.07" y="242.55" fill="#262626" stroke="#262626">0.4</text><text x="226.45" y="242.55" fill="#262626" stroke="#262626">0.0</text><text x="243.82" y="242.55" fill="#262626" stroke="#262626">0.4</text><text x="261.20" y="242.55" fill="#262626" stroke="#262626">0.0</text><text x="278.58" y="242.55" fill="#262626" stroke="#262626">−0.2</text><text x="295.95" y="242.55" fill="#262626" stroke="#262626">0.5</text><text x="313.33" y="242.55" fill="#ffffff" stroke="#ffffff">1.0</text><text x="330.70" y="242.55" fill="#ffffff" stroke="#ffffff">−0.4</text><text x="348.08" y="242.55" fill="#262626" stroke="#262626">0.0</text><text x="365.46" y="242.55" fill="#262626" stroke="#262626">0.0</text><text x="382.83" y="242.55" fill="#262626" stroke="#262626">0.0</text><text x="400.21" y="242.55" fill="#262626" stroke="#262626">0.1</text><text x="417.58" y="242.55" fill="#262626" stroke="#262626">−0.3</text><text x="434.96" y="242.55" fill="#262626" stroke="#262626">0.0</text><text x="452.34" y="242.55" fill="#262626" stroke="#262626">−0.2</text><text x="469.71" y="242.55" fill="#262626" stroke="#262626">0.0</text><text x="52.69" y="256.94" fill="#262626" stroke="#262626">0.0</text><text x="70.06" y="256.94" fill="#262626" stroke="#262626">0.0</text><text x="87.44" y="256.94" fill="#262626" stroke="#262626">−0.2</text><text x="104.82" y="256.94" fill="#262626" stroke="#262626">0.0</text><text x="122.19" y="256.94" fill="#262626" stroke="#262626">−0.1</text><text x="139.57" y="256.94" fill="#262626" stroke="#262626">0.0</text><text x="156.94" y="256.94" fill="#262626" stroke="#262626">0.0</text><text x="174.32" y="256.94" fill="#262626" stroke="#262626">−0.1</text><text x="191.70" y="256.94" fill="#262626" stroke="#262626">0.0</text><text x="209.07" y="256.94" fill="#262626" stroke="#262626">−0.2</text><text x="226.45" y="256.94" fill="#262626" stroke="#262626">−0.1</text><text x="243.82" y="256.94" fill="#262626" stroke="#262626">−0.2</text><text x="261.20" y="256.94" fill="#262626" stroke="#262626">0.0</text><text x="278.58" y="256.94" fill="#262626" stroke="#262626">0.1</text><text x="295.95" y="256.94" fill="#262626" stroke="#262626">−0.3</text><text x="313.33" y="256.94" fill="#ffffff" stroke="#ffffff">−0.4</text><text x="330.70" y="256.94" fill="#ffffff" stroke="#ffffff">1.0</text><text x="348.08" y="256.94" fill="#262626" stroke="#262626">0.4</text><text x="365.46" y="256.94" fill="#262626" stroke="#262626">−0.1</text><text x="382.83" y="256.94" fill="#262626" stroke="#262626">−0.2</text><text x="400.21" y="256.94" fill="#262626" stroke="#262626">0.2</text><text x="417.58" y="256.94" fill="#262626" stroke="#262626">0.0</text><text x="434.96" y="256.94" fill="#262626" stroke="#262626">0.1</text><text x="452.34" y="256.94" fill="#262626" stroke="#262626">−0.1</text><text x="469.71" y="256.94" fill="#262626" stroke="#262626">0.0</text><text x="52.69" y="271.32" fill="#262626" stroke="#262626">0.0</text><text x="70.06" y="271.32" fill="#262626" stroke="#262626">0.0</text><text x="87.44" y="271.32" fill="#262626" stroke="#262626">−0.1</text><text x="104.82" y="271.32" fill="#262626" stroke="#262626">−0.1</text><text x="122.19" y="271.32" fill="#262626" stroke="#262626">−0.1</text><text x="139.57" y="271.32" fill="#262626" stroke="#262626">0.0</text><text x="156.94" y="271.32" fill="#262626" stroke="#262626">0.0</text><text x="174.32" y="271.32" fill="#262626" stroke="#262626">0.0</text><text x="191.70" y="271.32" fill="#262626" stroke="#262626">0.0</text><text x="209.07" y="271.32" fill="#262626" stroke="#262626">−0.1</text><text x="226.45" y="271.32" fill="#262626" stroke="#262626">0.0</text><text x="243.82" y="271.32" fill="#262626" stroke="#262626">0.0</text><text x="261.20" y="271.32" fill="#262626" stroke="#262626">0.0</text><text x="278.58" y="271.32" fill="#262626" stroke="#262626">0.2</text><text x="295.95" y="271.32" fill="#262626" stroke="#262626">−0.2</text><text x="313.33" y="271.32" fill="#262626" stroke="#262626">0.0</text><text x="330.70" y="271.32" fill="#262626" stroke="#262626">0.4</text><text x="348.08" y="271.32" fill="#ffffff" stroke="#ffffff">1.0</text><text x="365.46" y="271.32" fill="#ffffff" stroke="#ffffff">−0.4</text><text x="382.83" y="271.32" fill="#262626" stroke="#262626">0.0</text><text x="400.21" y="271.32" fill="#262626" stroke="#262626">0.5</text><text x="417.58" y="271.32" fill="#262626" stroke="#262626">0.0</text><text x="434.96" y="271.32" fill="#262626" stroke="#262626">0.1</text><text x="452.34" y="271.32" fill="#ffffff" stroke="#ffffff">−0.4</text><text x="469.71" y="271.32" fill="#262626" stroke="#262626">0.1</text><text x="52.69" y="285.70" fill="#262626" stroke="#262626">0.0</text><text x="70.06" y="285.70" fill="#262626" stroke="#262626">0.0</text><text x="87.44" y="285.70" fill="#262626" stroke="#262626">0.1</text><text x="104.82" y="285.70" fill="#262626" stroke="#262626">0.1</text><text x="122.19" y="285.70" fill="#262626" stroke="#262626">0.0</text><text x="139.57" y="285.70" fill="#262626" stroke="#262626">0.0</text><text x="156.94" y="285.70" fill="#262626" stroke="#262626">0.0</text><text x="174.32" y="285.70" fill="#262626" stroke="#262626">0.0</text><text x="191.70" y="285.70" fill="#262626" stroke="#262626">0.0</text><text x="209.07" y="285.70" fill="#262626" stroke="#262626">0.0</text><text x="226.45" y="285.70" fill="#262626" stroke="#262626">0.0</text><text x="243.82" y="285.70" fill="#262626" stroke="#262626">0.0</text><text x="261.20" y="285.70" fill="#262626" stroke="#262626">0.0</text><text x="278.58" y="285.70" fill="#262626" stroke="#262626">−0.2</text><text x="295.95" y="285.70" fill="#262626" stroke="#262626">0.2</text><text x="313.33" y="285.70" fill="#262626" stroke="#262626">0.0</text><text x="330.70" y="285.70" fill="#262626" stroke="#262626">−0.1</text><text x="348.08" y="285.70" fill="#ffffff" stroke="#ffffff">−0.4</text><text x="365.46" y="285.70" fill="#ffffff" stroke="#ffffff">1.0</text><text x="382.83" y="285.70" fill="#262626" stroke="#262626">0.3</text><text x="400.21" y="285.70" fill="#ffffff" stroke="#ffffff">−0.4</text><text x="417.58" y="285.70" fill="#262626" stroke="#262626">−0.1</text><text x="434.96" y="285.70" fill="#262626" stroke="#262626">0.0</text><text x="452.34" y="285.70" fill="#262626" stroke="#262626">0.3</text><text x="469.71" y="285.70" fill="#262626" stroke="#262626">−0.1</text><text x="52.69" y="300.09" fill="#262626" stroke="#262626">0.0</text><text x="70.06" y="300.09" fill="#262626" stroke="#262626">0.0</text><text x="87.44" y="300.09" fill="#262626" stroke="#262626">0.0</text><text x="104.82" y="300.09" fill="#262626" stroke="#262626">0.0</text><text x="122.19" y="300.09" fill="#262626" stroke="#262626">0.0</text><text x="139.57" y="300.09" fill="#262626" stroke="#262626">0.0</text><text x="156.94" y="300.09" fill="#262626" stroke="#262626">0.0</text><text x="174.32" y="300.09" fill="#262626" stroke="#262626">0.0</text><text x="191.70" y="300.09" fill="#262626" stroke="#262626">0.0</text><text x="209.07" y="300.09" fill="#262626" stroke="#262626">0.0</text><text x="226.45" y="300.09" fill="#262626" stroke="#262626">0.1</text><text x="243.82" y="300.09" fill="#262626" stroke="#262626">0.1</text><text x="261.20" y="300.09" fill="#262626" stroke="#262626">0.0</text><text x="278.58" y="300.09" fill="#262626" stroke="#262626">0.0</text><text x="295.95" y="300.09" fill="#262626" stroke="#262626">0.1</text><text x="313.33" y="300.09" fill="#262626" stroke="#262626">0.0</text><text x="330.70" y="300.09" fill="#262626" stroke="#262626">−0.2</text><text x="348.08" y="300.09" fill="#262626" stroke="#262626">0.0</text><text x="365.46" y="300.09" fill="#262626" stroke="#262626">0.3</text><text x="382.83" y="300.09" fill="#ffffff" stroke="#ffffff">1.0</text><text x="400.21" y="300.09" fill="#262626" stroke="#262626">−0.3</text><text x="417.58" y="300.09" fill="#262626" stroke="#262626">0.0</text><text x="434.96" y="300.09" fill="#262626" stroke="#262626">0.0</text><text x="452.34" y="300.09" fill="#262626" stroke="#262626">−0.2</text><text x="469.71" y="300.09" fill="#262626" stroke="#262626">0.0</text><text x="52.69" y="314.47" fill="#262626" stroke="#262626">0.0</text><text x="70.06" y="314.47" fill="#262626" stroke="#262626">0.0</text><text x="87.44" y="314.47" fill="#262626" stroke="#262626">0.0</text><text x="104.82" y="314.47" fill="#262626" stroke="#262626">0.0</text><text x="122.19" y="314.47" fill="#262626" stroke="#262626">0.0</text><text x="139.57" y="314.47" fill="#262626" stroke="#262626">0.0</text><text x="156.94" y="314.47" fill="#262626" stroke="#262626">0.0</text><text x="174.32" y="314.47" fill="#262626" stroke="#262626">0.0</text><text x="191.70" y="314.47" fill="#262626" stroke="#262626">0.0</text><text x="209.07" y="314.47" fill="#262626" stroke="#262626">0.0</text><text x="226.45" y="314.47" fill="#262626" stroke="#262626">0.0</text><text x="243.82" y="314.47" fill="#262626" stroke="#262626">0.0</text><text x="261.20" y="314.47" fill="#262626" stroke="#262626">0.0</text><text x="278.58" y="314.47" fill="#262626" stroke="#262626">0.1</text><text x="295.95" y="314.47" fill="#262626" stroke="#262626">0.0</text><text x="313.33" y="314.47" fill="#262626" stroke="#262626">0.1</text><text x="330.70" y="314.47" fill="#262626" stroke="#262626">0.2</text><text x="348.08" y="314.47" fill="#262626" stroke="#262626">0.5</text><text x="365.46" y="314.47" fill="#ffffff" stroke="#ffffff">−0.4</text><text x="382.83" y="314.47" fill="#262626" stroke="#262626">−0.3</text><text x="400.21" y="314.47" fill="#ffffff" stroke="#ffffff">1.0</text><text x="417.58" y="314.47" fill="#262626" stroke="#262626">−0.2</text><text x="434.96" y="314.47" fill="#262626" stroke="#262626">0.0</text><text x="452.34" y="314.47" fill="#262626" stroke="#262626">−0.3</text><text x="469.71" y="314.47" fill="#262626" stroke="#262626">0.0</text><text x="52.69" y="328.86" fill="#262626" stroke="#262626">0.0</text><text x="70.06" y="328.86" fill="#262626" stroke="#262626">0.2</text><text x="87.44" y="328.86" fill="#ffffff" stroke="#ffffff">−0.4</text><text x="104.82" y="328.86" fill="#262626" stroke="#262626">−0.2</text><text x="122.19" y="328.86" fill="#262626" stroke="#262626">−0.2</text><text x="139.57" y="328.86" fill="#262626" stroke="#262626">0.0</text><text x="156.94" y="328.86" fill="#262626" stroke="#262626">0.0</text><text x="174.32" y="328.86" fill="#ffffff" stroke="#ffffff">0.6</text><text x="191.70" y="328.86" fill="#262626" stroke="#262626">−0.2</text><text x="209.07" y="328.86" fill="#262626" stroke="#262626">−0.3</text><text x="226.45" y="328.86" fill="#262626" stroke="#262626">0.0</text><text x="243.82" y="328.86" fill="#262626" stroke="#262626">−0.3</text><text x="261.20" y="328.86" fill="#262626" stroke="#262626">0.0</text><text x="278.58" y="328.86" fill="#262626" stroke="#262626">0.1</text><text x="295.95" y="328.86" fill="#262626" stroke="#262626">−0.3</text><text x="313.33" y="328.86" fill="#262626" stroke="#262626">−0.3</text><text x="330.70" y="328.86" fill="#262626" stroke="#262626">0.0</text><text x="348.08" y="328.86" fill="#262626" stroke="#262626">0.0</text><text x="365.46" y="328.86" fill="#262626" stroke="#262626">−0.1</text><text x="382.83" y="328.86" fill="#262626" stroke="#262626">0.0</text><text x="400.21" y="328.86" fill="#262626" stroke="#262626">−0.2</text><text x="417.58" y="328.86" fill="#ffffff" stroke="#ffffff">1.0</text><text x="434.96" y="328.86" fill="#262626" stroke="#262626">−0.2</text><text x="452.34" y="328.86" fill="#262626" stroke="#262626">0.3</text><text x="469.71" y="328.86" fill="#262626" stroke="#262626">0.0</text><text x="52.69" y="343.24" fill="#262626" stroke="#262626">0.0</text><text x="70.06" y="343.24" fill="#262626" stroke="#262626">−0.1</text><text x="87.44" y="343.24" fill="#262626" stroke="#262626">0.0</text><text x="104.82" y="343.24" fill="#262626" stroke="#262626">0.0</text><text x="122.19" y="343.24" fill="#262626" stroke="#262626">0.0</text><text x="139.57" y="343.24" fill="#262626" stroke="#262626">0.0</text><text x="156.94" y="343.24" fill="#262626" stroke="#262626">0.0</text><text x="174.32" y="343.24" fill="#262626" stroke="#262626">−0.1</text><text x="191.70" y="343.24" fill="#262626" stroke="#262626">0.1</text><text x="209.07" y="343.24" fill="#262626" stroke="#262626">0.0</text><text x="226.45" y="343.24" fill="#262626" stroke="#262626">0.0</text><text x="243.82" y="343.24" fill="#262626" stroke="#262626">0.0</text><text x="261.20" y="343.24" fill="#262626" stroke="#262626">0.0</text><text x="278.58" y="343.24" fill="#262626" stroke="#262626">−0.1</text><text x="295.95" y="343.24" fill="#262626" stroke="#262626">0.1</text><text x="313.33" y="343.24" fill="#262626" stroke="#262626">0.0</text><text x="330.70" y="343.24" fill="#262626" stroke="#262626">0.1</text><text x="348.08" y="343.24" fill="#262626" stroke="#262626">0.1</text><text x="365.46" y="343.24" fill="#262626" stroke="#262626">0.0</text><text x="382.83" y="343.24" fill="#262626" stroke="#262626">0.0</text><text x="400.21" y="343.24" fill="#262626" stroke="#262626">0.0</text><text x="417.58" y="343.24" fill="#262626" stroke="#262626">−0.2</text><text x="434.96" y="343.24" fill="#ffffff" stroke="#ffffff">1.0</text><text x="452.34" y="343.24" fill="#262626" stroke="#262626">−0.1</text><text x="469.71" y="343.24" fill="#262626" stroke="#262626">0.1</text><text x="52.69" y="357.62" fill="#262626" stroke="#262626">0.0</text><text x="70.06" y="357.62" fill="#262626" stroke="#262626">0.0</text><text x="87.44" y="357.62" fill="#262626" stroke="#262626">0.0</text><text x="104.82" y="357.62" fill="#262626" stroke="#262626">0.1</text><text x="122.19" y="357.62" fill="#262626" stroke="#262626">0.0</text><text x="139.57" y="357.62" fill="#262626" stroke="#262626">0.0</text><text x="156.94" y="357.62" fill="#262626" stroke="#262626">0.0</text><text x="174.32" y="357.62" fill="#262626" stroke="#262626">0.2</text><text x="191.70" y="357.62" fill="#262626" stroke="#262626">0.0</text><text x="209.07" y="357.62" fill="#262626" stroke="#262626">0.0</text><text x="226.45" y="357.62" fill="#262626" stroke="#262626">0.0</text><text x="243.82" y="357.62" fill="#262626" stroke="#262626">−0.1</text><text x="261.20" y="357.62" fill="#262626" stroke="#262626">0.0</text><text x="278.58" y="357.62" fill="#262626" stroke="#262626">0.0</text><text x="295.95" y="357.62" fill="#262626" stroke="#262626">−0.1</text><text x="313.33" y="357.62" fill="#262626" stroke="#262626">−0.2</text><text x="330.70" y="357.62" fill="#262626" stroke="#262626">−0.1</text><text x="348.08" y="357.62" fill="#ffffff" stroke="#ffffff">−0.4</text><text x="365.46" y="357.62" fill="#262626" stroke="#262626">0.3</text><text x="382.83" y="357.62" fill="#262626" stroke="#262626">−0.2</text><text x="400.21" y="357.62" fill="#262626" stroke="#262626">−0.3</text><text x="417.58" y="357.62" fill="#262626" stroke="#262626">0.3</text><text x="434.96" y="357.62" fill="#262626" stroke="#262626">−0.1</text><text x="452.34" y="357.62" fill="#ffffff" stroke="#ffffff">1.0</text><text x="469.71" y="357.62" fill="#262626" stroke="#262626">−0.2</text><text x="52.69" y="372.01" fill="#262626" stroke="#262626">0.0</text><text x="70.06" y="372.01" fill="#262626" stroke="#262626">0.0</text><text x="87.44" y="372.01" fill="#262626" stroke="#262626">0.0</text><text x="104.82" y="372.01" fill="#262626" stroke="#262626">0.0</text><text x="122.19" y="372.01" fill="#262626" stroke="#262626">0.0</text><text x="139.57" y="372.01" fill="#262626" stroke="#262626">0.0</text><text x="156.94" y="372.01" fill="#262626" stroke="#262626">0.0</text><text x="174.32" y="372.01" fill="#262626" stroke="#262626">0.0</text><text x="191.70" y="372.01" fill="#262626" stroke="#262626">0.0</text><text x="209.07" y="372.01" fill="#262626" stroke="#262626">0.0</text><text x="226.45" y="372.01" fill="#262626" stroke="#262626">0.0</text><text x="243.82" y="372.01" fill="#262626" stroke="#262626">0.0</text><text x="261.20" y="372.01" fill="#262626" stroke="#262626">0.0</text><text x="278.58" y="372.01" fill="#262626" stroke="#262626">0.1</text><text x="295.95" y="372.01" fill="#262626" stroke="#262626">−0.1</text><text x="313.33" y="372.01" fill="#262626" stroke="#262626">0.0</text><text x="330.70" y="372.01" fill="#262626" stroke="#262626">0.0</text><text x="348.08" y="372.01" fill="#262626" stroke="#262626">0.1</text><text x="365.46" y="372.01" fill="#262626" stroke="#262626">−0.1</text><text x="382.83" y="372.01" fill="#262626" stroke="#262626">0.0</text><text x="400.21" y="372.01" fill="#262626" stroke="#262626">0.0</text><text x="417.58" y="372.01" fill="#262626" stroke="#262626">0.0</text><text x="434.96" y="372.01" fill="#262626" stroke="#262626">0.1</text><text x="452.34" y="372.01" fill="#262626" stroke="#262626">−0.2</text><text x="469.71" y="372.01" fill="#ffffff" stroke="#ffffff">1.0</text></g>
<g stroke="#000" stroke-width="0.8"><line x1="41.00" y1="26.49" x2="44.00" y2="26.49"/><line x1="41.00" y1="40.88" x2="44.00" y2="40.88"/><line x1="41.00" y1="55.26" x2="44.00" y2="55.26"/><line x1="41.00" y1="69.64" x2="44.00" y2="69.64"/><line x1="41.00" y1="84.03" x2="44.00" y2="84.03"/><line x1="41.00" y1="98.41" x2="44.00" y2="98.41"/><line x1="41.00" y1="112.80" x2="44.00" y2="112.80"/><line x1="41.00" y1="127.18" x2="44.00" y2="127.18"/><line x1="41.00" y1="141.56" x2="44.00" y2="141.56"/><line x1="41.00" y1="155.95" x2="44.00" y2="155.95"/><line x1="41.00" y1="170.33" x2="44.00" y2="170.33"/><line x1="41.00" y1="184.72" x2="44.00" y2="184.72"/><line x1="41.00" y1="199.10" x2="44.00" y2="199.10"/><line x1="41.00" y1="213.48" x2="44.00" y2="213.48"/><line x1="41.00" y1="227.87" x2="44.00" y2="227.87"/><line x1="41.00" y1="242.25" x2="44.00" y2="242.25"/><line x1="41.00" y1="256.64" x2="44.00" y2="256.64"/><line x1="41.00" y1="271.02" x2="44.00" y2="271.02"/><line x1="41.00" y1="285.40" x2="44.00" y2="285.40"/><line x1="41.00" y1="299.79" x2="44.00" y2="299.79"/><line x1="41.00" y1="314.17" x2="44.00" y2="314.17"/><line x1="41.00" y1="328.56" x2="44.00" y2="328.56"/><line x1="41.00" y1="342.94" x2="44.00" y2="342.94"/><line x1="41.00" y1="357.32" x2="44.00" y2="357.32"/><line x1="41.00" y1="371.71" x2="44.00" y2="371.71"/><line x1="52.69" y1="378.90" x2="52.69" y2="381.90"/><line x1="70.06" y1="378.90" x2="70.06" y2="381.90"/><line x1="87.44" y1="378.90" x2="87.44" y2="381.90"/><line x1="104.82" y1="378.90" x2="104.82" y2="381.90"/><line x1="122.19" y1="378.90" x2="122.19" y2="381.90"/><line x1="139.57" y1="378.90" x2="139.57" y2="381.90"/><line x1="156.94" y1="378.90" x2="156.94" y2="381.90"/><line x1="174.32" y1="378.90" x2="174.32" y2="381.90"/><line x1="191.70" y1="378.90" x2="191.70" y2="381.90"/><line x1="209.07" y1="378.90" x2="209.07" y2="381.90"/><line x1="226.45" y1="378.90" x2="226.45" y2="381.90"/><line x1="243.82" y1="378.90" x2="243.82" y2="381.90"/><line x1="261.20" y1="378.90" x2="261.20" y2="381.90"/><line x1="278.58" y1="378.90" x2="278.58" y2="381.90"/><line x1="295.95" y1="378.90" x2="295.95" y2="381.90"/><line x1="313.33" y1="378.90" x2="313.33" y2="381.90"/><line x1="330.70" y1="378.90" x2="330.70" y2="381.90"/><line x1="348.08" y1="378.90" x2="348.08" y2="381.90"/><line x1="365.46" y1="378.90" x2="365.46" y2="381.90"/><line x1="382.83" y1="378.90" x2="382.83" y2="381.90"/><line x1="400.21" y1="378.90" x2="400.21" y2="381.90"/><line x1="417.58" y1="378.90" x2="417.58" y2="381.90"/><line x1="434.96" y1="378.90" x2="434.96" y2="381.90"/><line x1="452.34" y1="378.90" x2="452.34" y2="381.90"/><line x1="469.71" y1="378.90" x2="469.71" y2="381.90"/><line x1="524.20" y1="379.30" x2="527.20" y2="379.30"/><line x1="524.20" y1="339.30" x2="527.20" y2="339.30"/><line x1="524.20" y1="299.30" x2="527.20" y2="299.30"/><line x1="524.20" y1="259.30" x2="527.20" y2="259.30"/><line x1="524.20" y1="219.30" x2="527.20" y2="219.30"/><line x1="524.20" y1="179.30" x2="527.20" y2="179.30"/><line x1="524.20" y1="139.30" x2="527.20" y2="139.30"/><line x1="524.20" y1="99.30" x2="527.20" y2="99.30"/><line x1="524.20" y1="59.30" x2="527.20" y2="59.30"/><line x1="524.20" y1="19.30" x2="527.20" y2="19.30"/></g>
<g font-family="Liberation Serif, serif" font-size="8.0" fill="#000" stroke="#000" stroke-width="0.12" text-anchor="end" dominant-baseline="central"><text x="37.70" y="26.09">SPC</text><text x="37.70" y="40.48">ST</text><text x="37.70" y="54.86">TRD</text><text x="37.70" y="69.24">ECV</text><text x="37.70" y="83.63">SRS</text><text x="37.70" y="98.01">SFC</text><text x="37.70" y="112.40">VTC</text><text x="37.70" y="126.78">RDy</text><text x="37.70" y="141.16">RDe</text><text x="37.70" y="155.55">SLOPE</text><text x="37.70" y="169.93">GT</text><text x="37.70" y="184.32">DEM</text><text x="37.70" y="198.70">ASPECT</text><text x="37.70" y="213.08">FDe</text><text x="37.70" y="227.47">FDy</text><text x="37.70" y="241.85">MDy</text><text x="37.70" y="256.24">MDe</text><text x="37.70" y="270.62">GPDe</text><text x="37.70" y="285.00">GPDy</text><text x="37.70" y="299.39">GCy</text><text x="37.70" y="313.77">GCe</text><text x="37.70" y="328.16">CDy</text><text x="37.70" y="342.54">CDe</text><text x="37.70" y="356.92">USDy</text><text x="37.70" y="371.31">USDe</text></g>
<g font-family="Liberation Serif, serif" font-size="8.0" fill="#000" stroke="#000" stroke-width="0.12" text-anchor="end" dominant-baseline="central"><text transform="translate(52.99,385.40) rotate(-90)">SPC</text><text transform="translate(70.36,385.40) rotate(-90)">ST</text><text transform="translate(87.74,385.40) rotate(-90)">TRD</text><text transform="translate(105.12,385.40) rotate(-90)">ECV</text><text transform="translate(122.49,385.40) rotate(-90)">SRS</text><text transform="translate(139.87,385.40) rotate(-90)">SFC</text><text transform="translate(157.24,385.40) rotate(-90)">VTC</text><text transform="translate(174.62,385.40) rotate(-90)">RDy</text><text transform="translate(192.00,385.40) rotate(-90)">RDe</text><text transform="translate(209.37,385.40) rotate(-90)">SLOPE</text><text transform="translate(226.75,385.40) rotate(-90)">GT</text><text transform="translate(244.12,385.40) rotate(-90)">DEM</text><text transform="translate(261.50,385.40) rotate(-90)">ASPECT</text><text transform="translate(278.88,385.40) rotate(-90)">FDe</text><text transform="translate(296.25,385.40) rotate(-90)">FDy</text><text transform="translate(313.63,385.40) rotate(-90)">MDy</text><text transform="translate(331.00,385.40) rotate(-90)">MDe</text><text transform="translate(348.38,385.40) rotate(-90)">GPDe</text><text transform="translate(365.76,385.40) rotate(-90)">GPDy</text><text transform="translate(383.13,385.40) rotate(-90)">GCy</text><text transform="translate(400.51,385.40) rotate(-90)">GCe</text><text transform="translate(417.88,385.40) rotate(-90)">CDy</text><text transform="translate(435.26,385.40) rotate(-90)">CDe</text><text transform="translate(452.64,385.40) rotate(-90)">USDy</text><text transform="translate(470.01,385.40) rotate(-90)">USDe</text></g>
<g font-family="Liberation Serif, serif" font-size="8.0" fill="#000" stroke="#000" stroke-width="0.12" text-anchor="start" dominant-baseline="central"><text x="529.90" y="379.80">−0.8</text><text x="529.90" y="339.80">−0.6</text><text x="529.90" y="299.80">−0.4</text><text x="529.90" y="259.80">−0.2</text><text x="529.90" y="219.80">0.0</text><text x="529.90" y="179.80">0.2</text><text x="529.90" y="139.80">0.4</text><text x="529.90" y="99.80">0.6</text><text x="529.90" y="59.80">0.8</text><text x="529.90" y="19.80">1.0</text></g>
<defs><linearGradient id="cb" x1="0" y1="0" x2="0" y2="1"><stop offset="0.0000" stop-color="#d30122"/><stop offset="0.0156" stop-color="#d80a26"/><stop offset="0.0312" stop-color="#de1f2a"/><stop offset="0.0469" stop-color="#e42d2f"/><stop offset="0.0625" stop-color="#e93834"/><stop offset="0.0781" stop-color="#ee4339"/><stop offset="0.0938" stop-color="#f34d3e"/><stop offset="0.1094" stop-color="#f85644"/><stop offset="0.1250" stop-color="#fc5f49"/><stop offset="0.1406" stop-color="#ff674f"/><stop offset="0.1562" stop-color="#ff6f54"/><stop offset="0.1719" stop-color="#ff775a"/><stop offset="0.1875" stop-color="#ff7e60"/><stop offset="0.2031" stop-color="#ff8666"/><stop offset="0.2188" stop-color="#ff8d6c"/><stop offset="0.2344" stop-color="#ff9373"/><stop offset="0.2500" stop-color="#ff9a79"/><stop offset="0.2656" stop-color="#ffa07f"/><stop offset="0.2812" stop-color="#ffa686"/><stop offset="0.2969" stop-color="#ffac8c"/><stop offset="0.3125" stop-color="#ffb293"/><stop offset="0.3281" stop-color="#ffb799"/><stop offset="0.3438" stop-color="#ffbc9f"/><stop offset="0.3594" stop-color="#ffc0a6"/><stop offset="0.3750" stop-color="#ffc5ac"/><stop offset="0.3906" stop-color="#ffc9b3"/><stop offset="0.4062" stop-color="#fecdb9"/><stop offset="0.4219" stop-color="#fad0bf"/><stop offset="0.4375" stop-color="#f6d4c5"/><stop offset="0.4531" stop-color="#f0d6cb"/><stop offset="0.4688" stop-color="#ebd9d1"/><stop offset="0.4844" stop-color="#e5dbd7"/><stop offset="0.5000" stop-color="#dedddd"/><stop offset="0.5156" stop-color="#d9dde2"/><stop offset="0.5312" stop-color="#d4dce6"/><stop offset="0.5469" stop-color="#cedbea"/><stop offset="0.5625" stop-color="#c8daee"/><stop offset="0.5781" stop-color="#c2d8f2"/><stop offset="0.5938" stop-color="#bcd6f5"/><stop offset="0.6094" stop-color="#b6d4f8"/><stop offset="0.6250" stop-color="#b0d1fb"/><stop offset="0.6406" stop-color="#aacefc"/><stop offset="0.6562" stop-color="#a3cbfe"/><stop offset="0.6719" stop-color="#9dc7ff"/><stop offset="0.6875" stop-color="#97c3ff"/><stop offset="0.7031" stop-color="#90bfff"/><stop offset="0.7188" stop-color="#8abbff"/><stop offset="0.7344" stop-color="#84b6ff"/><stop offset="0.7500" stop-color="#7db1ff"/><stop offset="0.7656" stop-color="#77acff"/><stop offset="0.7812" stop-color="#71a7fe"/><stop offset="0.7969" stop-color="#6ba2fc"/><stop offset="0.8125" stop-color="#659cfa"/><stop offset="0.8281" stop-color="#6096f7"/><stop offset="0.8438" stop-color="#5a90f5"/><stop offset="0.8594" stop-color="#558af1"/><stop offset="0.8750" stop-color="#5083ee"/><stop offset="0.8906" stop-color="#4b7dea"/><stop offset="0.9062" stop-color="#4676e6"/><stop offset="0.9219" stop-color="#426fe1"/><stop offset="0.9375" stop-color="#3d68dc"/><stop offset="0.9531" stop-color="#3961d6"/><stop offset="0.9688" stop-color="#355ad1"/><stop offset="0.9844" stop-color="#3252cb"/><stop offset="1.0000" stop-color="#2e4bc5"/></linearGradient></defs>
<rect x="506.0" y="19.3" width="18.20" height="360.00" fill="url(#cb)"/>
<text x="261.2" y="14.3" font-family="Liberation Serif, serif" font-size="12.95" fill="#000" stroke="#000" stroke-width="0.15" text-anchor="middle">Correlation between Characterization Factors</text>
</svg>
</body></html>
